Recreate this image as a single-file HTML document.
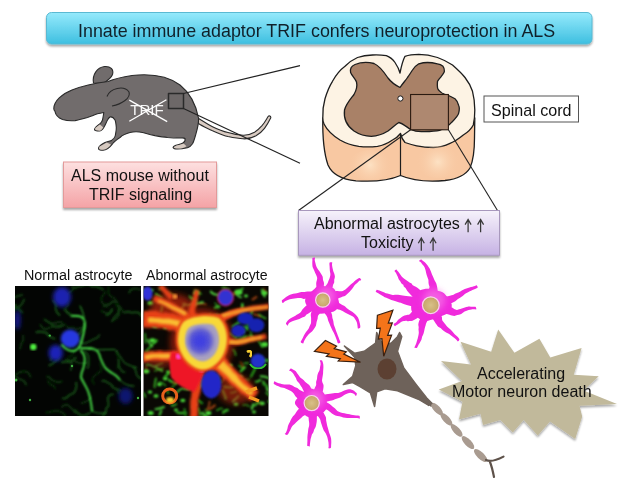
<!DOCTYPE html>
<html><head><meta charset="utf-8">
<style>
html,body{margin:0;padding:0;background:#fff;width:640px;height:480px;overflow:hidden}
body{position:relative;font-family:"Liberation Sans",sans-serif;color:#111}
svg{position:absolute;left:0;top:0}
.t{position:absolute;white-space:nowrap;line-height:1;will-change:transform}
</style></head><body>
<svg width="640" height="480" viewBox="0 0 640 480">
<defs>
 <linearGradient id="gTitle" x1="0" y1="0" x2="0" y2="1">
  <stop offset="0" stop-color="#95eafc"/><stop offset="1" stop-color="#3ebfe0"/>
 </linearGradient>
 <linearGradient id="gPink" x1="0" y1="0" x2="0" y2="1">
  <stop offset="0" stop-color="#fde0e0"/><stop offset="1" stop-color="#f4a3a6"/>
 </linearGradient>
 <linearGradient id="gLav" x1="0" y1="0" x2="0" y2="1">
  <stop offset="0" stop-color="#f6f2fb"/><stop offset="1" stop-color="#c6b2e4"/>
 </linearGradient>
 <filter id="sh" x="-10%" y="-10%" width="120%" height="140%">
  <feGaussianBlur in="SourceAlpha" stdDeviation="1.2"/><feOffset dy="1.5"/>
  <feComponentTransfer><feFuncA type="linear" slope="0.35"/></feComponentTransfer>
  <feMerge><feMergeNode/><feMergeNode in="SourceGraphic"/></feMerge>
 </filter>
 <radialGradient id="gNuc" cx="0.5" cy="0.5" r="0.55">
  <stop offset="0" stop-color="#d8c088"/><stop offset="0.8" stop-color="#c8a86c"/><stop offset="1" stop-color="#e8c8c0"/>
 </radialGradient>
 <filter id="b1"><feGaussianBlur stdDeviation="1"/></filter>
 <filter id="b2"><feGaussianBlur stdDeviation="2"/></filter>
 <filter id="b3"><feGaussianBlur stdDeviation="3"/></filter>
 <filter id="b05"><feGaussianBlur stdDeviation="0.6"/></filter>
 <filter id="b15"><feGaussianBlur stdDeviation="1.5"/></filter>
</defs>

<!-- Title bar -->
<rect x="46.5" y="12.5" width="545.5" height="31.5" rx="5" fill="url(#gTitle)" stroke="#5ab9d2" stroke-width="1" filter="url(#sh)"/>


<!-- Mouse -->
<g stroke="#2a2a2a" stroke-width="1.1" stroke-linejoin="round">
 <!-- tail -->
 <path d="M197 117.5 C203 121 207 124 212 126.5 C217 129 223 131.5 228 132.5 C233 134 238 135 243 135.3 C247 135.5 251 134.3 254.5 132.3 C258 130 260 128 262 125.7 C265 122 266.5 119 268.3 116.3 C269 115.5 271 116 270.8 117.8 C269 121.5 267 125 264.5 128.3 C262 131.5 259 134 256 135.8 C252 138 247 139 243 138.8 C238 138.5 233 137.5 228 136.5 C222 135 217 132.5 212 130.5 C207 128 202 126 198.5 123.5 Z" fill="#d9cbc2"/>
 <!-- ear -->
 <path d="M93.5 83 C92 75 97 67.5 104.5 66.5 C110.5 66 114 69.5 112.5 74.5 C111 78.5 107 81 103 83.5 Z" fill="#716c6c"/>
 <!-- body+head -->
 <path d="M53.8 108.5 C54 101 62 94 72 90 C82 86 96 83 108 81.5 C114 79 122 77 132 75.5 C150 73.5 168 76 180 85 C190 93 196 105 198.5 118 C199 124 197 130 195.6 135 C194.5 139 193.5 142 192.5 143.8 C191 146 189.5 147.5 187.5 147.8 C184 148.5 180 149 177.5 149 C175.5 149 173.5 148.5 173.1 147.5 C173.5 146 176 145.2 178 144.8 C180 144.4 182 144 183 143 C185 141.5 185.5 140 185 138.5 C184 137.6 182 137.8 180 138 C176 138 171 137.8 167.5 137.5 C163 137 159 136.3 155 135.6 C150 134.6 146 133.4 142.5 132.5 C138 131.5 134 131.5 130 132.5 C126 133.5 122 135.5 120 137.5 C117 139.5 114 141.5 112.5 143.8 C110 147 107 150 103 150.2 C100 150.2 98 149.5 98.5 148.2 C99 146 102 144 105 142.5 C108 141.5 110 141 111.3 140.6 C114 138.5 115 137 115.2 136 C116 132 116.5 130 116.3 127.5 C116 124 115.5 121 115 120 C113.5 117.5 111.5 116.5 110 117 C108.5 118 108 119 107.5 120 C106 123 105 125.5 103.8 127.5 C102.5 129.5 101 131 99.5 131 C97 131 94.5 130.5 94.5 129.5 C95 127.5 97.5 125.5 100 123.8 C101.5 122.5 102 121.5 102.5 120 C103 117.5 103.5 115 103.8 112.5 C101 113 99.5 113.5 97.5 113.8 C94 115 90.5 116.5 87.5 117.5 C83 118.8 79 120 75 120.6 C70 121.2 66 120.5 62.5 119.4 C58 117.5 55.5 114.5 55 111.3 C54 110.5 53.8 109.5 53.8 108.5 Z" fill="#716c6c"/>
 <!-- shoulder line -->
 <path d="M107 96.5 C110 88 124 85 129 92 C131 98 122 104 112 106" fill="none"/>
 <!-- square -->
 <rect x="168.5" y="93.5" width="15" height="15" fill="#6d6868" stroke-width="1.5"/>
</g>
<!-- paws -->
<path d="M95.2 128 L99.8 124.6 L103.2 127.2 C102 129.5 101 130.8 99.5 130.7 C97.5 130.7 95.5 130.3 95.2 129.6 Z" fill="#d6c9c0"/>
<path d="M99.2 146.8 L106.8 142.4 L111 144.6 C109 147.5 106.5 149.5 103 149.7 C100.5 149.7 99 149.2 99.2 148.4 Z" fill="#d6c9c0"/>
<path d="M173.8 147.3 C175 146 177 145.3 179 144.9 L183.5 143.4 L186.5 146.3 C184.5 147.8 181.5 148.6 177.5 148.6 C175.5 148.6 174 148.3 173.8 147.3 Z" fill="#d6c9c0"/>
<!-- lines from mouse to cord (on top) -->
<line x1="183.5" y1="93.5" x2="300" y2="65.7" stroke="#222" stroke-width="1.2"/>
<line x1="183.5" y1="108.5" x2="300" y2="163.3" stroke="#222" stroke-width="1.2"/>
<!-- TRIF cross -->
<g stroke="#fff" stroke-width="1.3">
 <line x1="129.3" y1="100.1" x2="167.2" y2="121.6"/>
 <line x1="166.4" y1="99.7" x2="129.3" y2="121.2"/>
</g>
<text x="130.2" y="114.7" font-family="Liberation Sans" font-size="15.4" textLength="33.5" lengthAdjust="spacingAndGlyphs" fill="#fff" opacity="0.95">TRIF</text>

<!-- Spinal cord -->
<radialGradient id="gPeachA" cx="370" cy="165" r="22" gradientUnits="userSpaceOnUse">
 <stop offset="0" stop-color="#fde2c4"/><stop offset="1" stop-color="#f8c8a2" stop-opacity="0"/>
</radialGradient>
<radialGradient id="gPeachB" cx="438" cy="162" r="22" gradientUnits="userSpaceOnUse">
 <stop offset="0" stop-color="#fde2c4"/><stop offset="1" stop-color="#f8c8a2" stop-opacity="0"/>
</radialGradient>
<linearGradient id="gPeach" x1="0" y1="0" x2="0" y2="1"><stop offset="0" stop-color="#f8c8a2"/><stop offset="1" stop-color="#f8c8a2"/></linearGradient>
<g stroke="#1d1d1d" stroke-width="1.3" stroke-linejoin="round">
 <path d="M322.8 118 C322.5 135 323.5 152 328 165 C332 174 342 179.5 356 180.8 C371 181.8 389 180.5 400.5 175.5 C412 180.5 429 181.8 445 180.5 C458 179 466 174.5 470 168 C473.5 160 474.5 148 474.5 138 L474.8 118 Z" fill="url(#gPeach)"/>
 <path d="M322.8 118 C322.5 110 323.5 104 325 98.8 C327 92 329.5 86 332.5 81.3 C336 75 340 70 345 66.3 C349 62 353 59.5 357.5 57.5 C362 56 367 55.2 372.5 55 C377 54.8 382 55 386.3 55.6 C390 57 393 59.5 395 62.5 C397 65.5 399 69 400 73 C401 68 402.5 61 405 56.3 C409 55 414 54.5 418.8 54.4 C425 54.5 432 55.8 437.5 57.5 C443 59.5 448 62 452.5 65 C457 69 461.5 73 465 77.5 C468.5 82 471 86.5 472.5 91.3 C474 97 474.8 104 474.8 110 C474.8 116 474.5 120 473.3 125 C471 129.5 467.5 132.5 463.3 135 C459 138.5 455 141.5 450 143.3 C444.5 146 438.5 147.3 433.3 147.5 C427 147.5 421.5 146.8 416.7 145.8 C412 144.8 408 143.5 405 142.5 C402.5 139.5 401 136 400.5 133.5 C398.5 136 396 138.5 392.5 140 C387.5 143.5 383 145.5 377.5 146.3 C371 147 364.5 147 358.8 146.3 C352 145.3 346 143.5 340 140 C333.5 136 327 130 324 124 C323 122 322.8 120 322.8 118 Z" fill="#fdf3e4"/>
 <path d="M400 87.5 C395 85 391 82 388 78 C384 72 380 66 374 63.5 C368 62 360 62.5 355 64.5 C351 66 350 69 350.6 72.5 C352 76 355.5 79 356.5 82 C357.5 86 356.5 90 354 94.5 C351 98.5 346 104 344.5 110 C343.5 118 347 126 354 131 C360 135 366 136.3 371.3 136.3 C378 136 384 133.5 388 131 C392 128 395.5 124.5 398.8 122.5 C402 123 406 126.5 410.5 129.4 C414 131 418 131.8 422 131.7 C428 131.5 434 131.5 439.7 130.3 C445 128.5 449 125.5 451.8 122.2 C455 119 458 116 458.6 113.4 C459.5 110 459.5 107 458.6 105.3 C457.5 102 456.5 100 455 98.8 C452 97 450 96 447.5 95 C444 94 442 93.5 441.3 92.5 C438.5 90.5 437.5 89 437.5 87.5 C437 84.5 437.5 83 437.5 81.3 C439 79 440 78 441.3 76.3 C443 74 444.5 72.5 444.4 71.3 C444.5 69 444 67.5 443 66.3 C441 64.5 439.5 64 437.5 63.8 C434 63 431 62.5 427.5 62.5 C424 62.5 421.5 63 418.8 63.8 C416 65.5 414 67.5 412.5 70 C410.5 73 409 75.5 407.5 77.5 C405.5 80.5 403 83 400 87.5 Z" fill="#a98167"/>
 <circle cx="400.4" cy="98.5" r="2.6" fill="#fff" stroke-width="1"/>
</g>
<ellipse cx="370" cy="165" rx="22" ry="15" fill="url(#gPeachA)"/><ellipse cx="438" cy="162" rx="22" ry="16" fill="url(#gPeachB)"/>
<line x1="400.5" y1="134" x2="400.5" y2="175.8" stroke="#1d1d1d" stroke-width="1.2"/>
<!-- square on cord -->
<rect x="410.6" y="94.5" width="37.8" height="35.3" fill="#ae8870" stroke="#2a1a10" stroke-width="1.1"/>
<line x1="410.6" y1="129.8" x2="298.5" y2="210.5" stroke="#222" stroke-width="1.1"/>
<line x1="448.4" y1="129.8" x2="497.5" y2="210.5" stroke="#222" stroke-width="1.1"/>

<!-- Spinal cord label box -->
<rect x="484" y="96" width="94.5" height="26" fill="#fff" stroke="#555" stroke-width="1"/>

<!-- pink box -->
<rect x="63.5" y="162" width="153" height="45.5" fill="url(#gPink)" stroke="#e39a9a" stroke-width="1" filter="url(#sh)"/>

<!-- lavender box -->
<rect x="298.5" y="210.5" width="201" height="44.8" fill="url(#gLav)" stroke="#a898bd" stroke-width="1" filter="url(#sh)"/>

<!-- Microscopy left -->
<clipPath id="cL"><rect x="15" y="286" width="126" height="130"/></clipPath>
<rect x="15" y="286" width="126" height="130" fill="#030503"/>
<g clip-path="url(#cL)">
<g fill="none" stroke-linejoin="round" stroke-linecap="round" filter="url(#b1)"><path d="M94.2 383.9 L92.3 380.8 L93.2 376.8 L95.5 375.2 L97.9 373.2 L101.2 371.0 L101.5 368.0 L100.1 363.4" stroke="#0c320c" stroke-width="1.4"/><path d="M117.2 301.9 L112.3 301.5 L109.3 304.7 L106.4 304.7 L103.6 306.5" stroke="#124412" stroke-width="1.7"/><path d="M101.5 310.9 L105.7 313.0 L109.1 313.3 L111.6 312.0 L112.5 308.8" stroke="#0f3a0f" stroke-width="1.7"/><path d="M105.4 292.0 L103.5 294.6 L101.1 298.2 L102.1 303.0 L105.9 305.1 L107.0 307.4" stroke="#0c320c" stroke-width="1.6"/><path d="M88.4 284.2 L92.6 286.6 L95.7 286.1 L99.0 287.6 L103.3 289.5" stroke="#185018" stroke-width="1.8"/><path d="M26.3 384.8 L23.8 380.6 L20.6 379.6 L16.3 377.4 L11.6 376.4 L8.5 375.4" stroke="#185018" stroke-width="1.5"/><path d="M117.4 368.2 L119.3 366.0 L118.8 361.1 L118.7 357.6 L116.7 354.1 L117.0 350.5" stroke="#0c320c" stroke-width="1.4"/><path d="M141.2 369.8 L143.5 368.1 L148.3 367.0 L152.7 367.1 L155.5 364.8 L156.6 360.3" stroke="#185018" stroke-width="1.4"/><path d="M133.7 367.4 L135.8 370.5 L136.4 374.1 L138.3 377.1 L141.5 378.4 L143.0 383.0 L143.3 386.8 L144.3 389.3" stroke="#185018" stroke-width="1.7"/><path d="M84.3 351.4 L87.4 354.2 L88.6 357.4 L88.6 360.6 L88.6 365.0 L87.6 368.1" stroke="#185018" stroke-width="1.8"/><path d="M88.6 284.6 L85.5 284.6 L82.0 286.1 L78.6 286.4 L75.7 288.0 L72.3 287.0" stroke="#124412" stroke-width="1.9"/><path d="M102.9 415.8 L105.9 411.8 L106.2 408.4 L108.4 406.1 L108.3 401.9 L107.7 397.9 L109.9 394.8 L113.1 394.3" stroke="#185018" stroke-width="1.8"/><path d="M15.6 304.8 L13.0 308.0 L10.9 309.6 L8.5 311.5 L8.3 314.3" stroke="#185018" stroke-width="2.0"/><path d="M75.7 357.6 L72.8 360.3 L70.2 362.0 L67.7 361.7 L64.5 361.8 L61.8 362.3" stroke="#185018" stroke-width="2.0"/><path d="M84.6 324.0 L84.6 327.9 L81.3 331.0 L78.5 334.6 L75.7 336.6 L74.6 340.5 L72.7 345.0 L68.9 346.3" stroke="#185018" stroke-width="1.9"/><path d="M99.3 334.9 L97.6 337.8 L93.9 339.1 L89.5 341.3 L86.3 343.1 L82.8 343.4 L80.3 342.0 L77.0 339.2" stroke="#185018" stroke-width="1.6"/><path d="M66.8 326.4 L69.1 328.2 L73.2 327.4 L75.7 329.3 L78.4 328.8 L81.9 327.4 L84.9 326.6" stroke="#0c320c" stroke-width="1.8"/><path d="M44.4 319.4 L47.7 321.7 L51.2 323.8 L54.5 326.8 L58.9 327.0 L62.5 325.9" stroke="#185018" stroke-width="1.7"/><path d="M108.5 286.6 L108.6 289.1 L108.4 293.3 L110.9 296.7 L114.2 298.0 L116.6 301.2 L118.1 305.8 L118.3 310.5" stroke="#0c320c" stroke-width="1.6"/><path d="M102.1 380.9 L104.7 380.7 L108.3 383.0 L111.2 384.4 L114.0 388.2 L117.5 389.3 L121.0 390.8" stroke="#185018" stroke-width="1.7"/><path d="M68.2 356.6 L70.9 356.3 L73.9 352.5 L75.2 349.2 L73.8 346.0" stroke="#0c320c" stroke-width="1.3"/><path d="M123.2 312.8 L122.4 310.1 L119.5 306.3 L115.6 305.1" stroke="#0c320c" stroke-width="1.9"/><path d="M20.9 312.0 L18.6 309.7 L16.9 307.5 L13.9 304.8 L11.2 305.2 L7.5 304.5 L3.4 304.8" stroke="#0f3a0f" stroke-width="1.4"/><path d="M50.9 360.3 L52.0 356.6 L53.5 353.8 L55.3 351.2 L58.5 349.3 L59.7 346.5" stroke="#185018" stroke-width="1.6"/><path d="M63.3 300.8 L66.7 298.4 L67.3 295.6 L68.4 292.8 L71.6 290.9 L74.6 287.6" stroke="#0f3a0f" stroke-width="1.7"/><path d="M62.8 398.4 L65.8 398.3 L69.5 395.0 L73.7 393.2 L75.7 389.6 L76.4 386.6 L76.2 382.6" stroke="#185018" stroke-width="1.9"/><path d="M61.9 381.3 L58.5 382.5 L54.9 381.4 L51.4 379.7 L49.2 377.0 L46.6 376.6" stroke="#124412" stroke-width="1.4"/><path d="M76.7 410.4 L73.0 410.0 L70.2 407.1 L67.4 404.8 L64.5 404.9 L61.8 407.0" stroke="#0c320c" stroke-width="1.9"/><path d="M74.0 358.1 L75.7 361.9 L80.3 363.3 L84.6 363.4 L87.2 362.6" stroke="#0f3a0f" stroke-width="1.8"/><path d="M74.3 411.6 L78.2 413.1 L80.3 415.1 L82.7 415.7 L85.4 415.1 L89.9 413.0" stroke="#185018" stroke-width="1.8"/><path d="M36.4 332.2 L39.4 331.6 L44.2 332.2 L47.5 333.5 L48.3 335.9 L52.3 337.9 L54.8 338.6" stroke="#185018" stroke-width="2.0"/><path d="M106.6 315.2 L108.9 314.1 L110.5 312.0 L111.7 309.6" stroke="#185018" stroke-width="1.9"/><path d="M70.9 370.1 L71.6 366.4 L71.7 362.6 L69.6 360.1 L65.8 359.5" stroke="#124412" stroke-width="1.7"/><path d="M125.1 312.2 L128.6 311.6 L132.2 312.9 L134.6 312.1 L138.8 312.7 L142.1 316.4 L143.8 318.7 L146.5 322.2" stroke="#185018" stroke-width="1.9"/><path d="M53.3 300.7 L56.2 304.1 L55.6 308.2 L56.6 311.8 L59.4 315.0" stroke="#185018" stroke-width="1.9"/><path d="M128.9 292.8 L131.0 289.5 L135.0 288.4 L138.8 289.1 L143.4 289.4 L147.9 291.1 L151.0 294.1" stroke="#185018" stroke-width="1.4"/><path d="M118.3 359.4 L118.8 362.5 L118.2 365.7 L120.8 369.3 L122.0 371.5 L124.8 372.2" stroke="#185018" stroke-width="1.6"/><path d="M46.1 412.4 L49.5 412.3 L51.9 411.5 L56.4 410.7 L59.0 411.3 L61.8 412.2 L64.7 414.4 L65.2 418.8" stroke="#0f3a0f" stroke-width="1.5"/><path d="M70.8 314.0 L67.0 311.9 L65.9 308.3 L68.0 304.9 L67.3 300.4" stroke="#0c320c" stroke-width="1.8"/><path d="M39.4 283.1 L43.3 280.5 L45.4 278.3 L46.5 275.5 L48.0 272.5" stroke="#124412" stroke-width="1.6"/><path d="M118.8 393.7 L117.6 390.4 L113.8 387.9 L111.6 386.5" stroke="#124412" stroke-width="1.6"/><path d="M111.5 321.3 L114.6 319.4 L117.0 318.1 L119.2 314.5 L118.6 310.6 L118.8 306.0" stroke="#0f3a0f" stroke-width="1.5"/><path d="M15.6 325.4 L12.2 328.0 L8.9 331.0 L5.0 333.8 L2.6 335.1 L1.1 338.3 L-1.3 339.1" stroke="#124412" stroke-width="1.5"/><path d="M22.3 294.9 L17.6 296.1 L13.1 298.0 L11.7 302.7 L12.2 305.2 L16.1 308.1 L19.4 309.1 L22.7 312.6" stroke="#124412" stroke-width="1.6"/><path d="M24.1 299.5 L22.0 303.9 L19.7 306.4 L16.1 307.8 L13.5 311.1 L12.4 314.2 L8.5 316.9 L3.7 318.2" stroke="#124412" stroke-width="1.9"/><path d="M40.1 324.6 L43.0 328.4 L46.5 329.0 L50.3 327.4 L54.2 326.2 L58.1 326.1 L61.1 325.5 L65.0 324.6" stroke="#124412" stroke-width="1.5"/><path d="M49.1 365.3 L51.8 364.3 L54.7 361.8 L57.6 359.7 L59.3 357.5" stroke="#185018" stroke-width="1.8"/><path d="M20.1 348.9 L21.0 344.4 L23.2 340.1 L23.1 335.8" stroke="#0c320c" stroke-width="1.9"/><path d="M12.2 374.4 L16.2 374.7 L19.8 372.1 L24.2 371.2 L28.3 372.6 L30.5 376.9" stroke="#0f3a0f" stroke-width="1.6"/><path d="M119.5 309.6 L117.9 313.5 L115.9 315.3 L113.5 318.4 L112.4 320.9" stroke="#185018" stroke-width="1.4"/><path d="M12.4 334.8 L9.8 338.9 L7.8 340.4 L2.8 340.7" stroke="#124412" stroke-width="1.9"/><path d="M62.4 322.5 L59.2 322.1 L54.7 322.9 L52.1 323.2" stroke="#0c320c" stroke-width="2.0"/><path d="M47.8 380.9 L49.7 384.0 L53.9 385.9 L55.3 388.6" stroke="#0c320c" stroke-width="1.5"/><path d="M119.0 283.7 L120.6 281.7 L124.0 278.2 L126.7 277.8 L128.9 279.7 L129.7 282.1" stroke="#0f3a0f" stroke-width="2.0"/><path d="M91.0 397.1 L89.1 400.0 L85.9 401.7 L81.4 403.2" stroke="#0f3a0f" stroke-width="1.5"/></g>
<g filter="url(#b2)">
  <ellipse cx="62" cy="297" rx="9" ry="10" fill="#1a22b0"/>
  <ellipse cx="17.5" cy="320" rx="3" ry="10" fill="#141e90"/>
  <ellipse cx="55.7" cy="353" rx="7" ry="8" fill="#1a24b8"/>
  <ellipse cx="125.6" cy="396" rx="7" ry="8" fill="#0e1670"/>
 </g>
 <ellipse cx="70.2" cy="338.6" rx="9.5" ry="9" fill="#2838e0" filter="url(#b15)"/>
 <g fill="none" stroke="#48e448" stroke-width="2" filter="url(#b1)" stroke-linecap="round" stroke-linejoin="round">
  <path d="M62 345 C66 350 70 351.5 74 351 C78 350 81 346 82.3 338.6 C84 332 85 326 84.7 321.7 C84 318 82 316.5 78 316 C75 315.7 73 315.7 71.4 315.7"/>
  <path d="M81 348.3 C84 348.3 87 348 90.7 348.3 C94 349 97 350 98 352 C99.5 354 100 356 100.4 358 C102 362 104 366 105.2 367.6 C108 371 112 373 115 374.9 C117 376 118.5 378 119.7 379.7" stroke-width="1.9"/>
  <path d="M81 350.7 C83 353 84.5 356 84.7 358 C85 362 84 365 83.5 367.6 C82 371 81 374 81 377.3 C82 380 83.5 382 84.7 384.5 C86 387 87.5 389.5 88.3 391.8 C89.5 395 90.2 398 90.7 401.4 C91.3 404.5 91.8 408 92 411" stroke-width="1.9"/>
  <path d="M88.3 349.5 C96 350 106 349.5 114.9 349.5 C118 353 121 358 124.5 362.8 C128 365 132 366.5 136.6 367.6" stroke-width="1" stroke="#2a8a2a"/>
  <path d="M84.7 321.7 C84 316 83 311 80 306" stroke-width="1.1" stroke="#2a9a2a"/>
  <path d="M71.4 315.7 C68 314 66 312 64 309" stroke-width="1" stroke="#2a8a2a"/>
  <path d="M119.7 379.7 C124 384 128 386 134 386" stroke-width="1" stroke="#2a8a2a"/>
  <path d="M92 411 C96 413 100 414 106 413" stroke-width="1" stroke="#2a8a2a"/>
 </g>
 <circle cx="33.3" cy="347" r="3.2" fill="#50f040" filter="url(#b1)"/>
 <g fill="#40b040" filter="url(#b05)">
  <circle cx="49.8" cy="335.6" r="1.2"/>
  <circle cx="16" cy="380" r="1.5"/>
  <circle cx="30" cy="400" r="1.2"/>
  <circle cx="138" cy="398" r="1.2"/>
  <circle cx="72" cy="366" r="1.2"/>
 </g>
</g>
<!-- Microscopy right -->
<clipPath id="cR"><rect x="143.5" y="286" width="125" height="130"/></clipPath>
<rect x="143.5" y="286" width="125" height="130" fill="#0a0804"/>
<g clip-path="url(#cR)">
<g filter="url(#b1)" stroke-linecap="round"><path d="M200.0 358.8 q-2.1 4.4 -1.8 6.3" fill="none" stroke="#38b828" stroke-width="2.0"/><path d="M207.5 367.9 q3.0 1.2 5.6 2.7" fill="none" stroke="#38b828" stroke-width="1.6"/><path d="M255.2 368.5 q-1.6 3.4 -4.1 7.8" fill="none" stroke="#228a18" stroke-width="2.6"/><path d="M162.8 288.0 q-1.5 0.4 -3.9 1.5" fill="none" stroke="#228a18" stroke-width="1.5"/><path d="M241.0 328.4 q-1.4 3.0 -2.8 6.0" fill="none" stroke="#228a18" stroke-width="2.4"/><path d="M226.5 345.5 q-5.0 2.4 -6.6 1.4" fill="none" stroke="#2a901a" stroke-width="1.9"/><path d="M175.0 384.5 q-2.0 1.9 -3.2 2.9" fill="none" stroke="#228a18" stroke-width="1.7"/><path d="M249.7 336.2 q3.2 -0.4 3.2 2.4" fill="none" stroke="#30a820" stroke-width="2.4"/><path d="M202.2 413.4 q3.5 1.3 5.5 4.0" fill="none" stroke="#50d040" stroke-width="1.9"/><path d="M185.4 326.5 q2.6 2.4 7.3 2.8" fill="none" stroke="#30a820" stroke-width="2.6"/><path d="M155.7 293.8 q3.1 2.0 6.2 4.1" fill="none" stroke="#38b828" stroke-width="2.0"/><path d="M267.1 386.0 q-0.6 3.4 1.1 4.4" fill="none" stroke="#50d040" stroke-width="2.2"/><path d="M177.0 412.2 q3.2 1.5 9.0 0.6" fill="none" stroke="#38b828" stroke-width="2.1"/><path d="M268.5 364.3 q2.5 3.7 7.0 5.6" fill="none" stroke="#228a18" stroke-width="1.5"/><path d="M240.4 328.8 q2.3 0.8 3.5 2.7" fill="none" stroke="#2a901a" stroke-width="1.9"/><path d="M145.0 333.9 q0.5 4.1 0.5 8.8" fill="none" stroke="#228a18" stroke-width="1.9"/><path d="M252.2 309.8 q0.0 1.5 -1.7 4.8" fill="none" stroke="#40c030" stroke-width="1.8"/><path d="M163.0 367.8 q-3.7 1.2 -8.2 3.2" fill="none" stroke="#228a18" stroke-width="1.6"/><path d="M196.1 299.5 q-2.2 2.4 -3.6 3.9" fill="none" stroke="#30a820" stroke-width="2.0"/><path d="M196.0 403.6 q-3.3 3.6 -3.1 3.8" fill="none" stroke="#50d040" stroke-width="1.8"/><path d="M171.8 358.7 q3.4 -0.3 3.4 2.7" fill="none" stroke="#38b828" stroke-width="2.1"/><path d="M237.4 295.0 q1.3 1.7 3.7 2.3" fill="none" stroke="#50d040" stroke-width="1.9"/><path d="M215.1 303.1 q2.5 1.8 3.2 5.4" fill="none" stroke="#2a901a" stroke-width="1.6"/><path d="M208.8 409.1 q-1.2 -0.2 -3.9 1.1" fill="none" stroke="#228a18" stroke-width="1.4"/><path d="M264.3 288.8 q-0.2 3.3 2.4 3.6" fill="none" stroke="#8a3a10" stroke-width="1.5"/><path d="M152.1 344.9 q-2.1 2.3 -5.8 6.3" fill="none" stroke="#2a901a" stroke-width="2.3"/><path d="M243.0 405.0 q4.5 -0.7 6.2 1.5" fill="none" stroke="#2a901a" stroke-width="1.5"/><path d="M262.0 289.9 q1.6 3.0 2.6 6.6" fill="none" stroke="#50d040" stroke-width="2.1"/><path d="M219.7 296.4 q0.0 3.2 1.4 5.1" fill="none" stroke="#8a3a10" stroke-width="1.5"/><path d="M260.7 376.2 q5.0 0.1 7.9 2.1" fill="none" stroke="#50d040" stroke-width="1.9"/><path d="M146.8 364.2 q5.2 0.4 8.2 3.0" fill="none" stroke="#50d040" stroke-width="1.4"/><path d="M226.2 349.2 q-0.7 2.1 -1.6 4.4" fill="none" stroke="#30a820" stroke-width="1.8"/><path d="M238.0 330.5 q-0.2 3.5 1.5 5.0" fill="none" stroke="#50d040" stroke-width="2.0"/><path d="M222.9 390.5 q1.8 3.6 3.0 7.9" fill="none" stroke="#38b828" stroke-width="2.5"/><path d="M182.9 303.7 q2.5 2.3 8.4 1.1" fill="none" stroke="#50d040" stroke-width="1.8"/><path d="M266.5 392.8 q1.8 2.0 4.2 3.3" fill="none" stroke="#30a820" stroke-width="1.9"/><path d="M221.8 350.2 q-2.3 4.5 -3.1 7.6" fill="none" stroke="#2a901a" stroke-width="2.3"/><path d="M247.4 322.2 q-1.6 4.4 -1.7 7.4" fill="none" stroke="#228a18" stroke-width="1.4"/><path d="M242.7 288.5 q-2.8 2.6 -3.7 3.3" fill="none" stroke="#40c030" stroke-width="1.9"/><path d="M241.2 389.6 q0.3 1.7 -0.5 4.5" fill="none" stroke="#8a3a10" stroke-width="1.5"/><path d="M189.5 296.1 q0.7 3.7 5.4 3.4" fill="none" stroke="#40c030" stroke-width="1.6"/><path d="M202.5 378.8 q1.3 2.1 -1.0 7.8" fill="none" stroke="#40c030" stroke-width="1.7"/><path d="M206.1 415.6 q-5.5 2.8 -7.6 2.3" fill="none" stroke="#40c030" stroke-width="1.9"/><path d="M260.5 379.9 q-4.3 2.8 -4.7 1.7" fill="none" stroke="#40c030" stroke-width="1.9"/><path d="M212.3 370.8 q1.1 3.7 1.0 8.7" fill="none" stroke="#228a18" stroke-width="2.4"/><path d="M168.8 379.9 q3.0 2.7 8.0 3.3" fill="none" stroke="#38b828" stroke-width="2.4"/><path d="M192.2 297.4 q3.8 1.7 4.3 6.7" fill="none" stroke="#2a901a" stroke-width="2.0"/><path d="M250.8 331.3 q-0.2 3.7 1.4 5.5" fill="none" stroke="#30a820" stroke-width="1.4"/><path d="M258.9 314.4 q2.8 2.7 6.8 4.1" fill="none" stroke="#38b828" stroke-width="1.5"/><path d="M242.3 304.3 q0.5 3.5 -0.5 8.5" fill="none" stroke="#40c030" stroke-width="2.6"/><path d="M198.5 400.4 q1.8 1.3 3.4 2.8" fill="none" stroke="#228a18" stroke-width="2.5"/><path d="M179.6 380.7 q-4.1 1.9 -6.3 1.9" fill="none" stroke="#8a3a10" stroke-width="1.6"/><path d="M227.6 410.1 q-0.4 -0.7 -4.5 2.3" fill="none" stroke="#38b828" stroke-width="2.5"/><path d="M209.1 360.5 q1.8 0.5 4.6 0.1" fill="none" stroke="#40c030" stroke-width="1.9"/><path d="M210.8 291.7 q2.5 3.3 8.3 3.3" fill="none" stroke="#50d040" stroke-width="2.1"/><path d="M164.0 407.0 q-5.2 2.0 -8.5 2.1" fill="none" stroke="#50d040" stroke-width="1.9"/><path d="M202.6 302.5 q-4.1 1.0 -8.4 2.2" fill="none" stroke="#50d040" stroke-width="2.5"/><path d="M156.7 340.5 q-3.7 3.4 -3.6 3.0" fill="none" stroke="#30a820" stroke-width="2.5"/><path d="M167.5 315.5 q2.7 2.6 5.5 5.3" fill="none" stroke="#8a3a10" stroke-width="1.7"/><path d="M206.0 361.7 q2.3 1.4 4.3 3.1" fill="none" stroke="#38b828" stroke-width="2.0"/><path d="M198.0 334.8 q1.0 2.1 -0.8 7.0" fill="none" stroke="#50d040" stroke-width="2.4"/><path d="M210.3 314.4 q-4.2 2.6 -6.4 3.1" fill="none" stroke="#40c030" stroke-width="2.4"/><path d="M236.3 391.4 q-3.8 1.8 -5.4 1.3" fill="none" stroke="#40c030" stroke-width="1.8"/><path d="M268.8 401.4 q1.8 1.1 4.5 1.3" fill="none" stroke="#40c030" stroke-width="2.5"/><path d="M197.8 408.4 q1.4 1.5 1.4 4.4" fill="none" stroke="#228a18" stroke-width="2.3"/><path d="M145.2 312.1 q2.5 2.9 3.4 7.3" fill="none" stroke="#8a3a10" stroke-width="1.8"/><path d="M223.0 330.7 q-1.7 5.9 0.5 8.0" fill="none" stroke="#8a3a10" stroke-width="2.4"/><path d="M239.0 365.7 q1.0 2.2 4.6 1.7" fill="none" stroke="#228a18" stroke-width="2.0"/><path d="M162.9 322.8 q-2.3 0.5 -4.3 0.7" fill="none" stroke="#8a3a10" stroke-width="1.5"/><path d="M239.4 328.5 q1.8 2.3 4.6 3.5" fill="none" stroke="#50d040" stroke-width="1.9"/><path d="M222.9 291.3 q-2.5 2.7 -4.3 4.6" fill="none" stroke="#40c030" stroke-width="1.6"/><path d="M167.6 307.5 q4.1 -0.6 5.4 1.5" fill="none" stroke="#228a18" stroke-width="2.4"/><path d="M253.3 404.1 q-1.3 3.0 -1.3 4.8" fill="none" stroke="#50d040" stroke-width="2.1"/><path d="M239.1 322.3 q-3.7 2.6 -6.6 4.3" fill="none" stroke="#30a820" stroke-width="2.3"/><path d="M256.0 400.4 q1.4 2.8 5.2 3.3" fill="none" stroke="#8a3a10" stroke-width="1.8"/><path d="M166.3 389.7 q1.4 1.3 1.8 3.6" fill="none" stroke="#2a901a" stroke-width="2.0"/><path d="M221.6 316.2 q-0.5 3.7 1.5 4.9" fill="none" stroke="#8a3a10" stroke-width="1.8"/><path d="M152.7 352.9 q-0.8 0.6 -5.5 5.1" fill="none" stroke="#50d040" stroke-width="2.2"/><path d="M145.9 366.0 q1.0 2.1 -0.1 6.2" fill="none" stroke="#8a3a10" stroke-width="1.7"/><path d="M224.6 287.4 q-0.6 4.2 -1.3 8.4" fill="none" stroke="#2a901a" stroke-width="1.7"/><path d="M264.9 359.8 q4.3 0.6 7.8 1.9" fill="none" stroke="#30a820" stroke-width="2.2"/><path d="M238.7 291.9 q-3.8 1.8 -8.0 3.9" fill="none" stroke="#40c030" stroke-width="1.9"/><path d="M218.2 341.8 q-1.5 3.7 -2.0 6.3" fill="none" stroke="#50d040" stroke-width="1.9"/><path d="M179.0 371.2 q-4.5 4.5 -5.1 5.2" fill="none" stroke="#228a18" stroke-width="2.5"/><path d="M240.3 362.2 q2.9 2.1 2.6 7.3" fill="none" stroke="#8a3a10" stroke-width="1.6"/><path d="M237.3 292.5 q-2.4 0.9 -4.2 1.3" fill="none" stroke="#8a3a10" stroke-width="2.5"/><path d="M203.2 412.5 q-0.2 -0.4 -3.7 2.5" fill="none" stroke="#40c030" stroke-width="1.5"/><path d="M161.2 410.8 q-1.0 2.3 -1.7 4.2" fill="none" stroke="#40c030" stroke-width="2.1"/><path d="M168.7 292.8 q2.3 1.6 5.3 2.5" fill="none" stroke="#228a18" stroke-width="1.6"/><path d="M218.7 369.1 q1.6 1.9 -0.8 7.9" fill="none" stroke="#8a3a10" stroke-width="1.9"/><path d="M263.0 381.5 q1.9 2.7 3.7 5.4" fill="none" stroke="#40c030" stroke-width="2.0"/><path d="M249.7 321.7 q-0.4 2.7 -1.9 6.5" fill="none" stroke="#228a18" stroke-width="2.2"/><path d="M237.9 310.7 q3.7 1.4 5.9 4.2" fill="none" stroke="#40c030" stroke-width="2.0"/><path d="M222.2 287.2 q3.5 1.0 6.8 2.3" fill="none" stroke="#2a901a" stroke-width="1.9"/><path d="M152.1 297.2 q-2.6 0.2 -5.2 0.3" fill="none" stroke="#8a3a10" stroke-width="1.6"/><path d="M187.6 330.0 q2.5 2.5 8.0 1.9" fill="none" stroke="#50d040" stroke-width="2.3"/><path d="M245.0 367.1 q-2.6 2.7 -4.4 4.4" fill="none" stroke="#38b828" stroke-width="2.3"/><path d="M162.0 306.0 q0.6 1.8 -0.9 5.6" fill="none" stroke="#38b828" stroke-width="2.6"/><path d="M259.0 341.6 q1.8 2.5 3.3 5.4" fill="none" stroke="#2a901a" stroke-width="2.1"/><path d="M197.4 359.8 q-3.8 3.5 -4.2 3.6" fill="none" stroke="#38b828" stroke-width="2.2"/><path d="M169.9 372.1 q-3.1 2.9 -4.8 4.4" fill="none" stroke="#30a820" stroke-width="2.2"/><path d="M254.1 314.4 q3.6 0.2 5.4 2.1" fill="none" stroke="#8a3a10" stroke-width="2.3"/><path d="M214.7 405.4 q-3.3 2.6 -5.0 3.6" fill="none" stroke="#8a3a10" stroke-width="2.5"/><path d="M183.0 337.9 q0.6 2.9 2.2 4.8" fill="none" stroke="#8a3a10" stroke-width="2.5"/><path d="M188.8 337.4 q1.1 4.0 3.1 7.0" fill="none" stroke="#50d040" stroke-width="2.4"/><path d="M162.5 362.8 q-4.5 2.3 -7.3 2.9" fill="none" stroke="#40c030" stroke-width="1.6"/><path d="M145.8 353.0 q4.1 -1.2 5.5 0.4" fill="none" stroke="#228a18" stroke-width="1.6"/><path d="M196.3 361.7 q3.1 -0.4 4.3 1.1" fill="none" stroke="#2a901a" stroke-width="2.3"/><path d="M256.3 297.0 q-2.2 1.5 -3.8 2.5" fill="none" stroke="#8a3a10" stroke-width="2.2"/><path d="M232.7 349.6 q2.7 1.6 2.9 5.6" fill="none" stroke="#228a18" stroke-width="1.8"/><path d="M185.0 303.8 q-0.6 1.4 -4.6 6.0" fill="none" stroke="#50d040" stroke-width="2.0"/><path d="M194.7 393.4 q-0.9 3.5 1.5 3.7" fill="none" stroke="#8a3a10" stroke-width="1.8"/><path d="M201.5 356.4 q-3.4 2.5 -6.1 4.4" fill="none" stroke="#30a820" stroke-width="2.0"/><path d="M196.0 305.0 q-2.7 3.7 -3.9 6.0" fill="none" stroke="#8a3a10" stroke-width="1.6"/><path d="M192.1 354.8 q-0.3 3.3 2.4 3.5" fill="none" stroke="#2a901a" stroke-width="2.6"/><path d="M224.6 386.9 q3.8 0.3 7.8 0.4" fill="none" stroke="#40c030" stroke-width="2.5"/><path d="M243.9 326.6 q2.7 0.8 3.8 3.4" fill="none" stroke="#40c030" stroke-width="1.6"/><path d="M217.9 315.1 q-1.1 -0.9 -5.8 1.7" fill="none" stroke="#40c030" stroke-width="2.5"/><path d="M222.0 408.5 q-0.8 -0.7 -5.0 1.8" fill="none" stroke="#228a18" stroke-width="2.0"/><path d="M186.1 357.2 q4.3 -1.4 5.0 0.8" fill="none" stroke="#30a820" stroke-width="2.0"/><path d="M244.0 336.0 q-4.9 4.2 -6.2 4.9" fill="none" stroke="#228a18" stroke-width="2.4"/><path d="M259.5 402.0 q-1.5 0.9 -4.7 3.5" fill="none" stroke="#38b828" stroke-width="2.0"/><path d="M219.4 306.4 q-1.0 -0.6 -4.5 1.4" fill="none" stroke="#40c030" stroke-width="2.3"/><path d="M159.5 382.4 q4.1 0.4 5.9 3.0" fill="none" stroke="#228a18" stroke-width="1.7"/><path d="M143.2 392.8 q1.5 1.6 2.1 4.1" fill="none" stroke="#38b828" stroke-width="1.6"/><path d="M209.5 401.7 q0.3 2.8 -2.4 8.5" fill="none" stroke="#8a3a10" stroke-width="2.0"/><path d="M181.3 388.6 q-3.1 2.6 -5.7 4.7" fill="none" stroke="#50d040" stroke-width="1.6"/><path d="M147.7 339.7 q1.5 4.1 4.6 6.8" fill="none" stroke="#50d040" stroke-width="1.6"/><path d="M152.6 325.7 q0.7 1.9 4.2 1.0" fill="none" stroke="#50d040" stroke-width="2.2"/><path d="M227.1 373.9 q-3.8 5.6 -3.8 7.2" fill="none" stroke="#8a3a10" stroke-width="2.6"/><path d="M190.5 378.3 q-0.3 0.1 -3.4 3.0" fill="none" stroke="#40c030" stroke-width="1.8"/><path d="M249.4 379.5 q-2.5 -0.3 -7.0 1.4" fill="none" stroke="#228a18" stroke-width="1.6"/><path d="M263.2 384.1 q3.1 0.6 4.3 3.1" fill="none" stroke="#228a18" stroke-width="2.2"/><path d="M184.5 408.9 q0.1 4.0 1.2 7.1" fill="none" stroke="#228a18" stroke-width="2.0"/><path d="M155.8 366.8 q2.8 2.4 6.4 4.0" fill="none" stroke="#40c030" stroke-width="2.2"/><path d="M248.5 363.1 q-2.3 0.4 -4.2 0.2" fill="none" stroke="#30a820" stroke-width="1.5"/><path d="M240.2 330.4 q-0.4 1.9 -2.9 5.9" fill="none" stroke="#38b828" stroke-width="1.9"/><path d="M246.5 336.2 q-1.9 2.2 -4.6 5.4" fill="none" stroke="#2a901a" stroke-width="2.5"/><path d="M183.0 388.5 q2.8 0.9 7.0 0.4" fill="none" stroke="#40c030" stroke-width="2.2"/><path d="M186.1 370.6 q0.4 3.0 2.5 4.3" fill="none" stroke="#30a820" stroke-width="2.1"/><path d="M155.9 378.7 q-1.2 4.8 -1.3 8.4" fill="none" stroke="#2a901a" stroke-width="2.3"/><path d="M206.1 304.4 q-3.5 -0.8 -8.7 0.1" fill="none" stroke="#8a3a10" stroke-width="1.6"/><path d="M260.9 359.8 q1.4 1.7 4.8 1.3" fill="none" stroke="#30a820" stroke-width="2.2"/><path d="M215.6 376.6 q4.3 1.6 5.6 6.2" fill="none" stroke="#2a901a" stroke-width="1.5"/><path d="M200.0 380.9 q-0.4 3.1 -1.3 6.6" fill="none" stroke="#40c030" stroke-width="2.5"/><path d="M176.3 404.2 q-4.3 2.5 -4.6 1.0" fill="none" stroke="#38b828" stroke-width="1.8"/><path d="M229.3 333.3 q3.6 2.1 6.8 4.5" fill="none" stroke="#38b828" stroke-width="2.1"/><path d="M152.6 290.2 q-5.8 1.5 -8.6 0.0" fill="none" stroke="#40c030" stroke-width="2.3"/><path d="M238.3 396.2 q-4.0 3.8 -5.3 4.9" fill="none" stroke="#50d040" stroke-width="2.1"/><path d="M194.9 290.3 q3.0 1.7 5.9 3.6" fill="none" stroke="#228a18" stroke-width="1.9"/></g>
<g fill="#48d838" filter="url(#b1)"><ellipse cx="150.5" cy="303.0" rx="3.0" ry="2.1"/><ellipse cx="196.3" cy="293.0" rx="3.0" ry="2.1"/><ellipse cx="152.4" cy="340.4" rx="3.2" ry="2.2"/><ellipse cx="238.4" cy="292.3" rx="4.0" ry="2.8"/><ellipse cx="264.5" cy="293.0" rx="3.0" ry="2.1"/><ellipse cx="146.4" cy="371.3" rx="3.0" ry="2.1"/><ellipse cx="165.3" cy="378.6" rx="2.5" ry="1.8"/><ellipse cx="159.5" cy="384.4" rx="2.5" ry="1.8"/><ellipse cx="150.7" cy="413.0" rx="3.0" ry="2.1"/><ellipse cx="182.8" cy="400.5" rx="2.5" ry="1.8"/><ellipse cx="230.0" cy="365.5" rx="2.5" ry="1.8"/><ellipse cx="240.4" cy="377.0" rx="2.5" ry="1.8"/><ellipse cx="208.4" cy="413.0" rx="3.0" ry="2.1"/><ellipse cx="262.3" cy="403.4" rx="2.5" ry="1.8"/><ellipse cx="264.5" cy="344.5" rx="3.5" ry="2.4"/><ellipse cx="246.0" cy="296.0" rx="2.0" ry="1.4"/><ellipse cx="156.0" cy="396.0" rx="2.5" ry="1.8"/><ellipse cx="176.0" cy="410.0" rx="2.0" ry="1.4"/><ellipse cx="236.0" cy="404.0" rx="2.5" ry="1.8"/><ellipse cx="254.0" cy="412.0" rx="2.0" ry="1.4"/><ellipse cx="168.0" cy="372.0" rx="2.0" ry="1.4"/><ellipse cx="150.0" cy="392.0" rx="2.2" ry="1.5"/><ellipse cx="165.5" cy="327.3" rx="2.5" ry="1.8"/></g>
<g filter="url(#b3)" opacity="0.7"><ellipse cx="172" cy="308" rx="22" ry="14" fill="#c02810"/><ellipse cx="202" cy="342" rx="32" ry="34" fill="#b02010"/><ellipse cx="236" cy="390" rx="18" ry="14" fill="#a02810"/><ellipse cx="160" cy="360" rx="14" ry="8" fill="#902010"/></g>
<path d="M188.4 317.8 C188.9 314.9 187.4 317.1 186.6 316.9 C185.7 316.6 184.5 316.7 183.4 316.4 C182.3 316.2 181.1 315.6 179.9 315.3 C178.7 315.0 177.3 314.9 176.1 314.5 C174.9 314.1 173.9 313.2 172.7 313.0 C171.6 312.9 170.4 313.6 169.3 313.5 C168.2 313.4 167.2 312.5 166.2 312.4 C165.1 312.3 164.0 312.9 162.9 312.9 C161.9 312.9 160.9 312.5 159.9 312.2 C158.8 311.8 157.7 311.1 156.5 310.8 C155.3 310.5 153.9 310.6 152.7 310.5 C151.4 310.5 150.1 310.3 148.9 310.5 C147.8 310.6 146.6 311.4 145.7 311.6 C144.7 311.8 144.0 309.3 143.5 311.8 C142.9 314.2 142.3 323.7 142.5 326.3 C142.7 328.9 143.9 327.1 144.8 327.3 C145.7 327.5 146.8 327.6 148.0 327.7 C149.1 327.7 150.4 327.5 151.6 327.4 C152.8 327.4 154.1 327.1 155.2 327.2 C156.3 327.4 157.2 328.2 158.2 328.3 C159.2 328.5 160.2 328.0 161.2 328.1 C162.2 328.1 163.1 328.4 164.0 328.6 C165.0 328.8 165.9 328.9 166.7 329.2 C167.6 329.6 168.3 330.6 169.2 330.8 C170.2 330.9 171.2 329.9 172.3 329.9 C173.3 329.9 174.4 330.3 175.5 330.8 C176.5 331.3 177.4 332.5 178.4 333.0 C179.3 333.5 180.4 333.6 181.3 333.9 C182.1 334.1 182.3 337.4 183.5 334.7 C184.7 332.0 187.9 320.8 188.4 317.8 Z" fill="#e84018" filter="url(#b15)"/>
<path d="M191.9 314.9 C192.3 313.5 191.2 314.0 190.6 313.6 C190.1 313.2 189.2 313.0 188.4 312.7 C187.7 312.4 186.7 312.1 185.9 311.6 C185.1 311.2 184.3 310.4 183.6 309.9 C182.8 309.3 182.2 308.7 181.3 308.3 C180.5 307.8 179.5 307.7 178.7 307.1 C177.9 306.6 177.2 305.6 176.4 305.0 C175.5 304.4 174.4 304.0 173.5 303.4 C172.5 302.9 171.6 302.2 170.5 301.7 C169.5 301.2 168.3 300.9 167.2 300.4 C166.0 300.0 164.8 299.5 163.6 298.9 C162.5 298.4 161.3 297.7 160.2 297.3 C159.2 296.8 158.0 296.4 157.2 296.1 C156.4 295.8 155.9 294.5 155.2 295.3 C154.4 296.0 152.9 299.6 152.9 300.7 C152.8 301.8 154.0 301.6 154.9 302.0 C155.7 302.4 156.8 302.8 157.9 303.2 C159.0 303.6 160.3 303.8 161.4 304.3 C162.5 304.7 163.6 305.4 164.6 305.9 C165.6 306.4 166.5 306.8 167.4 307.2 C168.3 307.7 169.1 308.2 170.0 308.7 C170.8 309.3 171.6 309.9 172.5 310.5 C173.3 311.1 174.2 311.6 175.0 312.2 C175.9 312.8 176.7 313.5 177.5 314.1 C178.3 314.7 179.1 315.3 179.9 315.9 C180.7 316.4 181.5 317.0 182.3 317.6 C183.1 318.1 184.0 318.5 184.7 319.0 C185.4 319.5 186.1 320.0 186.6 320.4 C187.1 320.9 186.9 322.6 187.8 321.7 C188.7 320.7 191.4 316.2 191.9 314.9 Z" fill="#e84018" filter="url(#b15)"/>
<path d="M199.7 320.5 C200.7 319.7 199.2 319.4 198.8 318.8 C198.4 318.2 197.9 317.6 197.5 316.9 C197.1 316.2 196.8 315.4 196.4 314.7 C196.1 314.0 195.7 313.3 195.5 312.7 C195.3 312.1 195.2 311.8 195.1 311.3 C195.0 310.8 195.2 310.3 195.2 309.7 C195.2 309.2 195.0 308.5 195.2 307.8 C195.3 307.2 195.8 306.6 196.1 305.9 C196.3 305.1 196.5 304.3 196.7 303.5 C196.9 302.7 197.0 301.9 197.2 301.0 C197.4 300.1 197.7 299.1 197.9 298.1 C198.2 297.1 198.4 296.0 198.6 295.1 C198.8 294.2 199.0 293.2 199.1 292.5 C199.2 291.7 199.9 291.0 199.1 290.5 C198.3 290.0 195.3 289.3 194.5 289.4 C193.7 289.5 194.4 290.5 194.3 291.2 C194.1 292.0 193.7 292.9 193.5 293.8 C193.3 294.7 193.2 295.8 193.0 296.8 C192.7 297.8 192.4 298.8 192.1 299.7 C191.8 300.6 191.5 301.4 191.2 302.1 C190.9 302.9 190.5 303.4 190.3 304.1 C190.0 304.8 190.0 305.6 189.8 306.4 C189.6 307.1 189.2 307.8 189.0 308.7 C188.8 309.5 188.4 310.4 188.4 311.3 C188.4 312.3 188.6 313.4 188.9 314.4 C189.2 315.3 189.9 316.2 190.2 317.2 C190.6 318.1 190.7 319.2 191.0 320.0 C191.2 320.8 191.6 321.7 191.9 322.2 C192.2 322.8 191.3 323.7 192.6 323.4 C193.9 323.1 198.7 321.2 199.7 320.5 Z" fill="#e84018" filter="url(#b15)"/>
<path d="M216.0 322.9 C216.8 323.8 217.6 322.5 218.6 322.1 C219.6 321.7 220.7 320.9 222.0 320.4 C223.2 319.9 224.7 319.4 226.1 318.9 C227.5 318.5 229.0 318.3 230.4 317.8 C231.7 317.4 232.8 316.6 234.0 316.1 C235.3 315.6 236.5 315.3 237.8 314.9 C239.0 314.4 240.2 313.9 241.5 313.5 C242.8 313.1 244.0 312.8 245.3 312.5 C246.6 312.2 247.9 312.0 249.2 311.8 C250.6 311.5 251.8 311.2 253.3 310.9 C254.7 310.7 256.4 310.6 257.9 310.4 C259.5 310.3 261.1 310.1 262.5 309.9 C264.0 309.7 265.4 309.5 266.6 309.3 C267.7 309.1 269.1 309.5 269.4 308.6 C269.7 307.6 269.2 304.4 268.6 303.6 C268.0 302.9 267.0 304.1 265.9 304.3 C264.7 304.5 263.3 304.5 261.8 304.7 C260.4 304.8 258.7 305.1 257.1 305.3 C255.6 305.5 253.8 305.5 252.3 305.8 C250.8 306.0 249.5 306.5 248.1 306.8 C246.7 307.1 245.4 307.4 244.1 307.7 C242.8 308.0 241.5 308.4 240.1 308.7 C238.8 309.0 237.4 309.1 236.2 309.5 C234.9 310.0 233.8 310.7 232.5 311.1 C231.2 311.6 229.8 311.6 228.4 312.0 C227.0 312.4 225.6 313.2 224.2 313.7 C222.8 314.2 221.3 314.5 220.0 315.0 C218.7 315.4 217.5 316.1 216.5 316.4 C215.5 316.7 214.0 315.8 213.9 316.9 C213.8 318.0 215.3 322.1 216.0 322.9 Z" fill="#e84018" filter="url(#b15)"/>
<path d="M223.5 343.3 C223.7 344.4 224.7 343.1 225.5 343.2 C226.3 343.4 227.3 343.9 228.4 344.1 C229.5 344.3 230.8 344.1 232.0 344.3 C233.2 344.4 234.5 345.0 235.7 345.1 C236.9 345.2 238.1 345.0 239.3 344.9 C240.4 344.7 241.5 344.5 242.6 344.2 C243.6 344.0 244.7 343.7 245.7 343.4 C246.7 343.0 247.6 342.6 248.6 342.3 C249.6 342.1 250.6 341.9 251.6 341.7 C252.6 341.5 253.6 341.3 254.7 341.0 C255.7 340.8 257.0 340.5 258.1 340.3 C259.3 340.1 260.5 340.0 261.6 339.8 C262.6 339.6 263.7 339.4 264.5 339.2 C265.4 339.0 266.4 339.7 266.6 338.8 C266.8 337.9 266.1 334.6 265.5 333.9 C265.0 333.1 264.3 333.9 263.4 334.1 C262.6 334.3 261.6 334.8 260.5 335.0 C259.5 335.3 258.3 335.4 257.1 335.6 C255.9 335.7 254.7 335.8 253.6 336.0 C252.5 336.1 251.4 336.4 250.4 336.6 C249.3 336.8 248.3 336.9 247.2 337.2 C246.2 337.5 245.3 337.9 244.3 338.1 C243.3 338.3 242.3 338.4 241.4 338.5 C240.5 338.7 239.6 339.1 238.7 339.2 C237.9 339.4 237.0 339.4 236.0 339.4 C235.0 339.3 233.9 339.2 232.8 338.9 C231.7 338.7 230.6 338.1 229.6 337.9 C228.6 337.7 227.5 337.7 226.7 337.5 C225.8 337.3 225.0 335.8 224.5 336.8 C224.0 337.7 223.3 342.2 223.5 343.3 Z" fill="#e84018" filter="url(#b15)"/>
<path d="M207.6 364.4 C205.6 367.1 208.4 366.2 209.2 367.0 C210.1 367.9 211.4 368.7 212.7 369.5 C214.1 370.4 215.9 371.0 217.1 372.0 C218.4 373.1 219.1 374.8 220.1 375.9 C221.1 376.9 222.3 377.7 223.3 378.4 C224.4 379.1 225.7 379.5 226.7 380.2 C227.6 380.9 228.4 381.8 229.2 382.7 C230.0 383.6 230.6 384.8 231.6 385.6 C232.6 386.4 234.0 386.6 235.2 387.4 C236.3 388.3 237.1 389.5 238.2 390.5 C239.3 391.5 240.6 392.7 241.9 393.7 C243.2 394.6 244.9 395.2 246.0 396.1 C247.2 397.0 247.9 398.6 248.8 399.3 C249.7 400.0 250.1 401.5 251.7 400.2 C253.3 398.9 257.7 393.3 258.5 391.6 C259.2 389.9 256.9 390.7 256.1 389.9 C255.2 389.1 254.3 387.9 253.2 386.9 C252.1 386.0 250.5 385.2 249.4 384.2 C248.3 383.1 247.4 381.7 246.5 380.6 C245.5 379.6 244.7 378.7 243.9 377.9 C243.0 377.0 242.4 376.2 241.5 375.4 C240.7 374.7 239.7 374.1 238.9 373.3 C238.1 372.5 237.4 371.6 236.6 370.7 C235.8 369.8 235.0 368.8 234.0 367.9 C233.1 366.9 232.1 366.0 231.1 364.9 C230.1 363.7 229.2 362.3 228.1 361.0 C227.1 359.7 226.0 358.4 225.0 357.3 C224.0 356.1 222.9 355.1 222.2 354.0 C221.5 353.0 223.4 349.3 221.0 351.0 C218.6 352.7 209.5 361.7 207.6 364.4 Z" fill="#e84018" filter="url(#b15)"/>
<path d="M195.4 371.1 C194.0 371.3 195.1 372.6 195.0 373.6 C195.0 374.6 195.4 375.9 195.2 377.1 C195.0 378.4 194.2 379.7 193.8 381.0 C193.4 382.2 193.1 383.6 192.9 384.8 C192.7 386.0 192.9 387.1 192.7 388.1 C192.5 389.2 192.0 390.0 191.8 391.0 C191.6 392.0 191.6 393.0 191.4 394.0 C191.3 395.1 191.2 396.1 191.0 397.2 C190.8 398.2 190.4 399.3 190.2 400.5 C190.1 401.6 190.1 402.9 190.1 404.2 C190.1 405.5 190.2 406.9 190.2 408.2 C190.2 409.6 190.3 411.0 190.3 412.3 C190.3 413.5 190.3 414.7 190.2 415.7 C190.1 416.7 188.3 417.6 189.6 418.0 C190.8 418.4 196.4 418.4 197.7 418.0 C199.1 417.6 197.6 416.5 197.6 415.5 C197.7 414.5 198.1 413.3 198.1 412.0 C198.2 410.8 197.9 409.5 198.0 408.2 C198.0 406.9 198.4 405.6 198.4 404.5 C198.4 403.4 197.9 402.4 198.0 401.4 C198.0 400.5 198.3 399.6 198.5 398.7 C198.7 397.8 198.9 396.9 199.2 396.0 C199.5 395.0 199.9 394.1 200.1 393.1 C200.4 392.1 200.6 391.1 200.9 390.0 C201.1 388.8 201.2 387.7 201.4 386.4 C201.6 385.2 201.7 383.8 202.1 382.5 C202.4 381.2 203.0 379.9 203.4 378.7 C203.7 377.4 204.0 376.2 204.0 375.2 C204.1 374.2 205.2 373.4 203.8 372.7 C202.4 372.0 196.9 371.0 195.4 371.1 Z" fill="#e84018" filter="url(#b15)"/>
<path d="M182.0 351.2 C181.7 349.6 181.0 351.1 180.3 351.1 C179.6 351.1 178.7 351.5 177.8 351.4 C176.9 351.4 175.9 350.8 174.9 350.8 C173.9 350.8 172.9 351.5 171.9 351.5 C171.0 351.6 170.0 351.1 169.1 351.1 C168.1 351.1 167.2 351.4 166.2 351.4 C165.2 351.5 164.1 351.5 163.1 351.4 C162.1 351.2 161.0 350.6 160.0 350.5 C158.9 350.5 157.9 351.1 156.8 351.2 C155.8 351.4 154.8 351.4 153.7 351.4 C152.6 351.4 151.4 351.1 150.3 351.2 C149.3 351.3 148.2 351.7 147.2 351.8 C146.2 352.0 145.2 351.9 144.5 352.1 C143.7 352.2 142.8 350.8 142.6 352.5 C142.5 354.3 143.0 360.7 143.4 362.4 C143.9 364.0 144.6 362.5 145.4 362.3 C146.2 362.1 147.1 361.5 148.0 361.3 C149.0 361.0 150.1 360.9 151.1 360.8 C152.1 360.6 153.2 360.5 154.2 360.5 C155.2 360.5 156.1 360.5 157.1 360.6 C158.1 360.7 159.0 360.9 160.0 361.0 C161.0 361.1 162.0 361.0 163.0 360.9 C164.0 360.9 165.1 360.7 166.1 360.7 C167.1 360.8 168.1 361.3 169.0 361.3 C170.0 361.4 170.9 361.0 171.9 361.0 C172.9 360.9 173.9 361.1 174.9 361.0 C175.9 360.9 176.9 360.4 177.8 360.4 C178.7 360.3 179.6 360.6 180.3 360.7 C181.0 360.8 181.7 362.7 182.0 361.1 C182.3 359.5 182.3 352.9 182.0 351.2 Z" fill="#e84018" filter="url(#b15)"/>
<path d="M219.9 323.7 C220.6 324.8 220.4 323.0 220.8 322.7 C221.2 322.3 221.8 321.9 222.4 321.5 C222.9 321.2 223.6 320.7 224.2 320.4 C224.9 320.1 225.7 320.0 226.3 319.6 C226.9 319.2 227.3 318.5 227.8 318.1 C228.4 317.7 229.1 317.7 229.7 317.3 C230.2 317.0 230.6 316.4 231.0 316.0 C231.5 315.7 232.1 315.4 232.6 315.2 C233.1 315.0 233.7 314.9 234.2 314.6 C234.8 314.4 235.3 314.0 236.0 313.8 C236.6 313.6 237.5 313.7 238.3 313.6 C239.1 313.4 239.9 313.0 240.7 312.8 C241.4 312.6 242.2 312.7 242.8 312.5 C243.5 312.4 244.2 312.5 244.3 311.7 C244.5 310.9 243.9 308.4 243.6 307.8 C243.2 307.2 242.7 308.0 242.1 308.1 C241.5 308.3 240.8 308.5 240.0 308.6 C239.2 308.8 238.3 309.0 237.5 309.2 C236.6 309.3 235.7 309.3 234.9 309.4 C234.1 309.6 233.3 309.8 232.5 310.0 C231.8 310.1 231.1 310.4 230.4 310.6 C229.7 310.8 229.0 310.9 228.4 311.2 C227.8 311.5 227.5 312.2 226.9 312.4 C226.3 312.7 225.6 312.5 225.0 312.8 C224.4 313.0 224.1 313.6 223.5 313.9 C222.9 314.3 222.1 314.5 221.4 314.8 C220.8 315.1 220.1 315.5 219.4 315.7 C218.8 316.0 218.2 316.2 217.6 316.3 C217.1 316.4 215.7 315.0 216.1 316.2 C216.5 317.5 219.1 322.6 219.9 323.7 Z" fill="#e84018" filter="url(#b15)"/>
<path d="M173.9 296.1 C174.4 295.4 173.4 295.9 173.2 295.6 C173.0 295.4 172.9 294.8 172.6 294.5 C172.4 294.2 171.8 294.0 171.5 293.7 C171.1 293.4 170.7 293.1 170.4 292.8 C170.1 292.5 169.9 292.1 169.6 291.8 C169.3 291.5 169.1 291.2 168.8 290.9 C168.5 290.7 168.2 290.4 167.8 290.2 C167.5 289.9 167.1 289.7 166.9 289.4 C166.6 289.1 166.6 288.6 166.3 288.3 C166.1 287.9 165.7 287.7 165.4 287.4 C165.0 287.1 164.7 286.8 164.4 286.4 C164.0 286.1 163.7 285.8 163.3 285.5 C163.0 285.3 162.5 285.1 162.2 285.0 C161.9 284.8 162.1 284.1 161.4 284.6 C160.8 285.0 158.6 287.2 158.2 287.8 C157.7 288.5 158.5 288.2 158.7 288.5 C159.0 288.7 159.3 289.0 159.6 289.3 C159.9 289.6 160.2 290.0 160.5 290.3 C160.9 290.5 161.5 290.6 161.9 290.9 C162.2 291.2 162.3 291.7 162.5 292.0 C162.8 292.4 163.2 292.5 163.5 292.8 C163.8 293.1 163.9 293.5 164.2 293.8 C164.4 294.2 164.5 294.6 164.8 294.9 C165.1 295.2 165.6 295.3 165.9 295.5 C166.2 295.8 166.5 296.1 166.8 296.4 C167.0 296.8 167.3 297.3 167.6 297.6 C167.9 297.9 168.3 298.2 168.6 298.5 C169.0 298.8 169.3 299.1 169.5 299.3 C169.7 299.6 169.3 300.5 170.1 299.9 C170.8 299.4 173.4 296.8 173.9 296.1 Z" fill="#e84018" filter="url(#b15)"/>
<path d="M183.0 321.8 C183.1 320.7 182.2 321.7 181.6 321.5 C181.0 321.3 180.3 321.1 179.5 320.8 C178.8 320.5 177.9 320.2 177.1 320.0 C176.2 319.8 175.2 319.8 174.3 319.6 C173.4 319.4 172.5 319.1 171.6 318.9 C170.8 318.8 169.9 318.6 169.0 318.5 C168.1 318.5 167.2 318.5 166.3 318.6 C165.4 318.6 164.5 318.8 163.6 318.8 C162.7 318.8 161.9 318.4 161.1 318.3 C160.2 318.2 159.4 318.1 158.4 318.0 C157.5 318.0 156.4 318.1 155.4 318.0 C154.5 317.9 153.4 317.6 152.5 317.6 C151.6 317.5 150.7 317.5 150.0 317.5 C149.3 317.5 148.6 316.9 148.2 317.7 C147.8 318.5 147.6 321.5 147.8 322.3 C148.0 323.1 148.9 322.5 149.6 322.6 C150.3 322.7 151.2 322.8 152.1 322.8 C153.0 322.9 154.1 322.7 155.0 322.8 C156.0 322.9 157.0 323.0 158.0 323.2 C158.9 323.4 159.8 323.7 160.7 323.8 C161.5 324.0 162.4 324.0 163.3 324.1 C164.2 324.2 165.1 324.2 166.0 324.3 C166.8 324.4 167.7 324.4 168.5 324.5 C169.3 324.6 170.0 324.6 170.8 324.7 C171.5 324.8 172.2 325.0 172.9 325.2 C173.7 325.4 174.5 325.6 175.3 325.9 C176.1 326.1 176.9 326.3 177.6 326.6 C178.3 327.0 178.8 327.6 179.4 328.0 C179.9 328.3 180.3 329.5 180.9 328.5 C181.5 327.5 182.9 323.0 183.0 321.8 Z" fill="#fac030" filter="url(#b15)"/>
<path d="M186.8 312.5 C186.7 311.9 185.8 312.1 185.2 311.8 C184.6 311.5 183.9 311.0 183.1 310.6 C182.3 310.2 181.4 309.8 180.6 309.4 C179.8 309.0 178.9 308.5 178.2 308.2 C177.4 307.9 176.6 307.7 176.0 307.5 C175.3 307.2 174.8 306.9 174.2 306.6 C173.7 306.3 173.1 306.1 172.6 305.9 C172.0 305.6 171.5 305.3 170.9 305.0 C170.3 304.8 169.8 304.4 169.2 304.1 C168.5 303.8 167.8 303.5 167.1 303.1 C166.4 302.8 165.6 302.3 164.7 302.0 C163.9 301.6 163.0 301.3 162.3 301.0 C161.5 300.7 160.7 300.4 160.0 300.2 C159.4 300.0 158.9 299.5 158.5 299.8 C158.0 300.2 157.4 301.8 157.5 302.2 C157.6 302.7 158.5 302.4 159.1 302.6 C159.8 302.8 160.6 303.0 161.4 303.3 C162.1 303.6 163.0 303.9 163.8 304.3 C164.6 304.7 165.4 305.2 166.1 305.6 C166.8 305.9 167.5 306.2 168.1 306.5 C168.7 306.8 169.2 307.1 169.7 307.4 C170.3 307.7 170.7 308.1 171.3 308.4 C171.8 308.7 172.3 308.9 172.9 309.2 C173.5 309.5 174.0 309.8 174.7 310.1 C175.3 310.4 176.0 310.7 176.7 311.1 C177.5 311.5 178.3 311.9 179.1 312.3 C180.0 312.7 180.8 313.2 181.6 313.6 C182.4 314.0 183.1 314.5 183.7 314.8 C184.3 315.1 184.8 315.8 185.3 315.4 C185.8 315.0 186.8 313.1 186.8 312.5 Z" fill="#fac030" filter="url(#b15)"/>
<path d="M222.4 317.3 C222.9 317.7 223.6 316.8 224.4 316.6 C225.2 316.3 226.3 316.1 227.3 315.9 C228.4 315.6 229.5 315.2 230.7 314.8 C231.8 314.5 233.0 314.1 234.1 313.8 C235.2 313.5 236.3 313.3 237.4 313.0 C238.5 312.8 239.6 312.6 240.7 312.3 C241.8 312.1 243.0 311.9 244.1 311.6 C245.2 311.3 246.4 310.9 247.5 310.7 C248.7 310.4 249.8 310.3 251.0 310.1 C252.2 309.9 253.3 309.6 254.5 309.4 C255.8 309.2 257.2 309.1 258.5 309.0 C259.8 308.8 261.2 308.8 262.4 308.7 C263.6 308.6 264.8 308.4 265.8 308.3 C266.7 308.3 267.8 308.7 268.2 308.3 C268.5 308.0 268.3 306.6 267.9 306.2 C267.5 305.9 266.5 306.3 265.5 306.4 C264.6 306.4 263.4 306.6 262.1 306.7 C260.9 306.8 259.5 306.8 258.2 307.0 C256.9 307.1 255.5 307.3 254.3 307.4 C253.0 307.6 251.8 307.7 250.6 307.9 C249.5 308.1 248.3 308.4 247.2 308.6 C246.0 308.8 244.8 309.1 243.7 309.3 C242.5 309.6 241.4 309.8 240.2 310.0 C239.1 310.2 238.0 310.4 236.8 310.7 C235.7 310.9 234.6 311.2 233.5 311.5 C232.4 311.8 231.1 312.2 230.0 312.5 C228.8 312.7 227.6 313.0 226.5 313.3 C225.5 313.6 224.5 313.8 223.6 314.1 C222.8 314.3 221.8 314.2 221.6 314.7 C221.4 315.3 221.9 317.0 222.4 317.3 Z" fill="#fac030" filter="url(#b15)"/>
<path d="M226.0 343.7 C226.3 344.2 227.2 343.5 228.1 343.5 C228.9 343.5 230.0 343.7 231.1 343.7 C232.2 343.8 233.4 343.8 234.6 343.8 C235.7 343.8 237.0 343.8 238.1 343.7 C239.2 343.6 240.1 343.3 241.1 343.1 C242.1 342.9 243.0 342.6 243.9 342.5 C244.8 342.3 245.8 342.2 246.6 341.9 C247.5 341.7 248.3 341.3 249.1 341.0 C249.9 340.8 250.7 340.6 251.5 340.4 C252.3 340.2 253.1 340.1 253.9 340.0 C254.7 339.9 255.6 339.8 256.4 339.6 C257.2 339.5 258.1 339.2 258.8 339.1 C259.5 338.9 260.3 338.9 260.8 338.7 C261.4 338.6 262.1 338.7 262.2 338.2 C262.4 337.7 262.1 336.1 261.7 335.7 C261.4 335.4 260.9 336.0 260.4 336.2 C259.8 336.4 259.1 336.6 258.3 336.8 C257.6 336.9 256.8 337.0 255.9 337.2 C255.1 337.3 254.2 337.5 253.4 337.6 C252.6 337.7 251.7 337.7 250.9 337.9 C250.0 338.0 249.2 338.3 248.4 338.5 C247.5 338.8 246.7 339.0 245.8 339.2 C245.0 339.4 244.1 339.7 243.3 339.9 C242.4 340.0 241.6 340.2 240.7 340.3 C239.8 340.5 238.9 340.7 237.9 340.8 C236.9 340.8 235.7 340.8 234.6 340.7 C233.5 340.7 232.2 340.6 231.2 340.6 C230.1 340.6 229.0 340.5 228.2 340.5 C227.3 340.4 226.4 339.9 226.0 340.4 C225.6 340.9 225.6 343.1 226.0 343.7 Z" fill="#fac030" filter="url(#b15)"/>
<path d="M217.0 367.0 C216.2 368.4 218.1 368.0 218.9 368.7 C219.7 369.4 220.6 370.4 221.5 371.3 C222.5 372.2 223.7 373.1 224.8 374.0 C225.8 374.9 227.0 375.8 227.9 376.7 C228.8 377.6 229.4 378.5 230.1 379.4 C230.9 380.2 231.6 381.0 232.3 381.6 C233.1 382.3 234.1 382.8 234.9 383.4 C235.7 384.1 236.3 384.9 237.0 385.6 C237.7 386.3 238.5 386.9 239.3 387.5 C240.1 388.2 240.9 388.8 241.7 389.5 C242.5 390.2 243.3 391.0 244.2 391.6 C245.1 392.1 246.2 392.5 247.0 393.0 C247.9 393.5 248.5 394.3 249.1 394.7 C249.6 395.2 249.7 396.4 250.5 395.9 C251.2 395.4 253.5 392.7 253.7 391.8 C254.0 391.0 252.7 391.3 252.1 390.8 C251.5 390.3 250.8 389.6 250.1 389.0 C249.4 388.4 248.6 387.7 247.8 387.0 C247.0 386.4 246.0 385.9 245.2 385.3 C244.4 384.7 243.8 384.0 243.1 383.4 C242.4 382.7 241.8 382.1 241.2 381.4 C240.5 380.7 239.8 380.0 239.3 379.2 C238.7 378.4 238.2 377.4 237.6 376.5 C237.0 375.6 236.5 374.7 235.6 373.9 C234.8 373.2 233.7 372.7 232.8 371.8 C232.0 370.8 231.4 369.3 230.5 368.2 C229.6 367.1 228.5 366.2 227.5 365.3 C226.6 364.4 225.6 363.5 224.9 362.7 C224.3 361.9 224.7 359.9 223.4 360.6 C222.0 361.4 217.7 365.7 217.0 367.0 Z" fill="#fac030" filter="url(#b15)"/>
<path d="M176.0 353.6 C175.8 352.8 175.1 353.6 174.6 353.7 C174.0 353.8 173.3 353.9 172.5 353.9 C171.8 353.9 170.9 353.8 170.1 353.8 C169.3 353.8 168.4 353.8 167.6 353.8 C166.8 353.7 166.0 353.6 165.2 353.7 C164.4 353.7 163.5 353.9 162.7 353.9 C161.8 353.9 160.9 353.8 160.0 353.8 C159.1 353.8 158.1 353.9 157.3 353.9 C156.4 353.9 155.5 353.7 154.7 353.7 C153.9 353.7 153.1 354.0 152.3 354.1 C151.5 354.2 150.7 354.2 150.0 354.3 C149.2 354.5 148.5 354.8 147.8 354.9 C147.2 355.0 146.6 355.1 146.0 355.1 C145.5 355.1 144.9 354.4 144.8 355.0 C144.6 355.7 145.0 358.5 145.3 359.2 C145.6 359.9 146.1 359.2 146.6 359.2 C147.1 359.1 147.7 359.0 148.4 358.9 C149.0 358.8 149.7 358.7 150.5 358.6 C151.2 358.4 151.9 358.1 152.6 357.9 C153.4 357.8 154.1 357.8 154.8 357.8 C155.6 357.8 156.4 357.7 157.3 357.8 C158.1 357.8 159.0 358.0 159.9 358.1 C160.8 358.2 161.7 358.3 162.6 358.3 C163.5 358.3 164.3 358.3 165.2 358.3 C166.0 358.3 166.8 358.2 167.6 358.2 C168.4 358.1 169.3 358.1 170.1 358.1 C170.9 358.2 171.8 358.5 172.5 358.5 C173.3 358.6 174.0 358.5 174.6 358.5 C175.1 358.4 175.8 359.2 176.0 358.4 C176.2 357.5 176.2 354.3 176.0 353.6 Z" fill="#fac030" filter="url(#b15)"/>
<path d="M246 392 L257 388 M249 397 L259 401" stroke="#f49a20" stroke-width="3.5" filter="url(#b05)"/>
<path d="M171 352 C182 350 196 360 204 370 C201 380 197 388 194 392 C184 389 176 384 171 377 C169 368 169 358 171 352 Z" fill="#ee1828" filter="url(#b1)"/>
<circle cx="178.6" cy="356.4" r="2.8" fill="#ff40c8" filter="url(#b1)"/><circle cx="201.8" cy="370" r="2.5" fill="#ff40c8" filter="url(#b1)"/>
<circle cx="175" cy="296.4" r="2.5" fill="#f08a30" filter="url(#b1)"/>
<path d="M183.3 322 C190 316 210 314 219 318 C225 324 228 334 226.5 344 C225 353 221 360 216 364 C211 368 206 370 201 369.5 C194 368 189 364 185 359 C180 352 177.5 345 178 338 C178.5 331 180 326 183.3 322 Z" fill="#e84a18" transform="translate(202 342) scale(1.1) translate(-202 -342)" filter="url(#b1)"/>
<path d="M183.3 322 C190 316 210 314 219 318 C225 324 228 334 226.5 344 C225 353 221 360 216 364 C211 368 206 370 201 369.5 C194 368 189 364 185 359 C180 352 177.5 345 178 338 C178.5 331 180 326 183.3 322 Z" fill="#f8d838" filter="url(#b1)"/>
<path d="M183.3 322 C190 316 210 314 219 318 C225 324 228 334 226.5 344 C225 353 221 360 216 364 C211 368 206 370 201 369.5 C194 368 189 364 185 359 C180 352 177.5 345 178 338 C178.5 331 180 326 183.3 322 Z" fill="#a8a0c0" transform="translate(201 342) scale(0.7) translate(-201 -342)" filter="url(#b15)"/>
<ellipse cx="200.5" cy="341" rx="12.5" ry="13" fill="#5856d4" filter="url(#b2)"/>
<ellipse cx="200" cy="341" rx="7" ry="7" fill="#4040e0" filter="url(#b2)"/>
<g filter="url(#b1)"><ellipse cx="211.3" cy="384.4" rx="10" ry="14" fill="#2028c8"/><ellipse cx="225.5" cy="297.5" rx="8" ry="8.3" fill="#3030d0" stroke="#b02040" stroke-width="1.2"/><ellipse cx="245.3" cy="318.4" rx="8" ry="6" fill="#1820b8"/><ellipse cx="256.3" cy="325.3" rx="8" ry="7" fill="#1820b0"/><ellipse cx="238.4" cy="330.8" rx="7" ry="6" fill="#1a22b8"/><ellipse cx="258" cy="361" rx="7.3" ry="7.3" fill="#2430c8"/><ellipse cx="147.5" cy="293.5" rx="5" ry="7" fill="#3030d8"/></g>
<path d="M250 364 C254 370 262 370 266 364" fill="none" stroke="#30c030" stroke-width="2" filter="url(#b05)"/>
<path d="M247 352 C250 350 253 352 250 357" fill="none" stroke="#f8d030" stroke-width="2.5" filter="url(#b05)"/>
<circle cx="169.7" cy="396" r="7" fill="none" stroke="#e8601a" stroke-width="3" filter="url(#b05)"/>
<ellipse cx="170" cy="400" rx="4" ry="3" fill="#f8d030" filter="url(#b1)"/>
</g>

<!-- Astrocytes -->
<radialGradient id="gAst" cx="0.5" cy="0.5" r="0.5">
 <stop offset="0" stop-color="#f47ae6"/><stop offset="1" stop-color="#ee34d9"/>
</radialGradient>
<g fill="#f02adc">
<path d="M328.1 298.9 C329.7 298.1 327.1 297.4 326.8 296.3 C326.5 295.3 326.6 293.8 326.2 292.5 C325.8 291.3 324.7 290.0 324.3 288.9 C323.9 287.8 323.9 286.9 323.8 285.9 C323.8 285.0 324.2 284.1 324.0 283.1 C323.9 282.1 323.3 281.1 323.0 280.1 C322.8 279.0 323.0 277.7 322.7 276.7 C322.4 275.6 321.6 274.6 321.0 273.7 C320.4 272.7 319.8 271.9 319.3 271.1 C318.7 270.3 318.1 269.6 317.6 268.8 C317.1 268.0 316.6 267.2 316.3 266.3 C315.9 265.3 315.7 264.1 315.4 263.0 C315.2 262.0 314.8 260.8 314.7 259.9 C314.7 259.0 315.3 257.9 314.9 257.6 C314.5 257.3 312.9 257.6 312.5 258.0 C312.1 258.5 312.5 259.3 312.4 260.2 C312.4 261.1 312.2 262.4 312.3 263.5 C312.3 264.6 312.4 265.9 312.6 267.0 C312.9 268.2 313.6 269.1 314.0 270.1 C314.4 271.1 314.8 272.1 315.2 273.1 C315.6 274.0 316.1 274.8 316.4 275.6 C316.7 276.5 317.1 277.2 317.2 278.1 C317.3 278.9 316.9 279.7 316.8 280.6 C316.6 281.5 316.2 282.3 316.2 283.3 C316.1 284.3 316.4 285.4 316.4 286.5 C316.4 287.7 316.2 289.0 316.2 290.3 C316.2 291.7 316.4 293.2 316.5 294.6 C316.6 295.9 316.7 297.4 316.8 298.5 C316.9 299.6 315.4 301.1 317.3 301.1 C319.2 301.2 326.5 299.7 328.1 298.9 Z"/>
<path d="M327.0 302.1 C328.7 302.4 327.5 300.4 328.0 299.2 C328.4 298.1 329.1 296.6 329.7 295.2 C330.2 293.8 330.7 292.1 331.2 290.9 C331.7 289.7 332.2 288.7 332.5 287.7 C332.8 286.7 332.8 285.8 333.0 285.0 C333.3 284.1 334.0 283.4 334.2 282.6 C334.4 281.7 334.1 280.7 334.2 279.8 C334.4 278.8 334.9 277.7 334.9 276.8 C334.9 275.8 334.5 274.8 334.3 273.8 C334.0 272.9 333.6 272.0 333.3 271.2 C333.1 270.4 332.9 269.6 332.7 268.8 C332.5 267.9 332.3 267.0 332.2 266.3 C332.0 265.5 332.0 264.7 332.0 264.0 C332.0 263.4 332.6 262.8 332.2 262.5 C331.9 262.2 330.2 262.2 329.7 262.5 C329.3 262.8 329.5 263.4 329.4 264.0 C329.4 264.7 329.5 265.5 329.6 266.3 C329.6 267.0 329.7 267.9 329.7 268.8 C329.8 269.6 329.8 270.4 329.9 271.3 C330.0 272.2 330.3 273.1 330.4 274.0 C330.4 274.9 330.2 275.9 330.0 276.7 C329.8 277.6 329.5 278.3 329.3 279.1 C329.0 279.8 328.7 280.4 328.4 281.1 C328.2 281.7 328.0 282.3 327.7 283.0 C327.4 283.7 326.9 284.3 326.4 285.1 C325.8 285.9 325.0 286.7 324.4 287.8 C323.8 288.9 323.4 290.4 322.7 291.7 C322.0 293.0 321.0 294.3 320.3 295.3 C319.5 296.3 317.1 296.6 318.2 297.7 C319.3 298.8 325.4 301.9 327.0 302.1 Z"/>
<path d="M324.5 305.0 C325.6 306.3 326.1 303.6 327.2 303.0 C328.4 302.4 330.1 301.8 331.6 301.3 C333.0 300.7 334.7 300.3 335.9 299.8 C337.1 299.2 337.9 298.6 338.7 298.2 C339.5 297.8 340.1 297.8 340.8 297.5 C341.5 297.2 342.1 296.8 342.9 296.5 C343.7 296.1 344.7 296.0 345.6 295.4 C346.5 294.8 347.5 293.9 348.3 293.1 C349.2 292.2 350.1 291.3 350.9 290.3 C351.7 289.4 352.4 288.3 353.1 287.4 C353.8 286.5 354.3 285.6 355.0 284.8 C355.8 284.1 356.7 283.5 357.4 282.8 C358.1 282.1 358.7 281.2 359.3 280.8 C360.0 280.3 361.1 280.5 361.2 280.0 C361.2 279.6 360.3 278.3 359.7 278.1 C359.2 277.9 358.5 278.3 357.8 278.7 C357.1 279.0 356.3 279.7 355.6 280.3 C354.8 281.0 354.1 281.8 353.3 282.5 C352.4 283.2 351.5 283.7 350.7 284.5 C349.8 285.2 349.0 286.3 348.1 287.1 C347.3 287.9 346.3 288.8 345.4 289.4 C344.5 290.0 343.6 290.6 342.8 290.9 C342.0 291.2 341.3 291.2 340.7 291.3 C340.1 291.3 339.7 291.3 339.0 291.3 C338.3 291.3 337.5 291.1 336.5 291.1 C335.6 291.2 334.4 291.4 333.1 291.8 C331.8 292.2 330.3 292.9 328.8 293.4 C327.4 294.0 325.8 294.7 324.5 295.0 C323.2 295.2 321.0 293.3 321.1 295.0 C321.1 296.7 323.5 303.7 324.5 305.0 Z"/>
<path d="M325.0 294.2 C325.3 292.1 323.5 293.5 322.3 293.3 C321.0 293.1 319.2 293.1 317.6 292.8 C316.1 292.5 314.4 292.0 312.9 291.7 C311.5 291.5 310.2 291.5 309.0 291.5 C307.8 291.5 306.8 291.6 305.8 291.7 C304.8 291.8 303.9 291.9 303.0 292.0 C302.1 292.1 301.2 292.1 300.2 292.3 C299.2 292.5 298.0 292.9 296.8 293.2 C295.7 293.4 294.4 293.4 293.2 293.7 C292.1 293.9 291.0 294.4 290.0 294.8 C289.0 295.2 288.1 295.7 287.3 296.2 C286.4 296.7 285.6 297.3 284.9 297.9 C284.2 298.4 283.5 299.0 283.0 299.5 C282.5 300.0 281.8 300.1 281.8 300.7 C281.7 301.3 282.3 302.8 282.7 303.0 C283.1 303.2 283.6 302.4 284.1 302.0 C284.7 301.6 285.3 301.0 286.1 300.7 C286.8 300.3 287.7 300.1 288.5 299.8 C289.4 299.5 290.2 299.2 291.2 299.0 C292.2 298.8 293.4 298.7 294.5 298.5 C295.6 298.4 296.8 298.1 297.9 298.0 C299.0 297.9 300.0 297.8 301.0 298.0 C302.0 298.2 302.9 298.8 303.7 298.9 C304.5 299.0 305.2 298.7 305.9 298.8 C306.5 298.8 307.1 299.1 307.9 299.4 C308.7 299.7 309.3 300.2 310.4 300.5 C311.4 300.8 313.0 301.0 314.3 301.5 C315.6 302.0 317.0 302.8 318.1 303.5 C319.1 304.2 319.5 307.4 320.6 305.8 C321.8 304.3 324.7 296.3 325.0 294.2 Z"/>
<path d="M319.9 295.5 C318.4 294.4 317.9 296.6 316.6 297.6 C315.4 298.7 313.9 300.4 312.4 301.6 C310.9 302.7 308.9 303.7 307.6 304.6 C306.3 305.6 305.3 306.5 304.5 307.3 C303.6 308.2 303.0 308.8 302.4 309.5 C301.9 310.2 301.7 311.0 301.2 311.6 C300.7 312.3 300.2 312.7 299.4 313.2 C298.7 313.7 297.7 314.1 296.7 314.7 C295.8 315.3 295.0 316.1 294.0 316.6 C293.1 317.2 291.9 317.4 291.1 317.9 C290.2 318.4 289.5 318.8 288.9 319.4 C288.3 319.9 287.8 320.4 287.4 321.0 C287.0 321.5 286.7 322.0 286.4 322.5 C286.2 322.9 285.8 323.1 286.0 323.7 C286.2 324.2 287.2 325.5 287.6 325.6 C287.9 325.8 287.9 324.9 288.2 324.5 C288.4 324.1 288.6 323.5 289.1 323.1 C289.5 322.6 290.1 322.3 290.8 321.9 C291.4 321.6 292.2 321.3 293.0 321.0 C293.9 320.7 295.0 320.5 296.1 320.1 C297.1 319.8 298.3 319.5 299.3 319.0 C300.4 318.6 301.3 317.9 302.2 317.5 C303.2 317.0 304.2 316.9 304.9 316.4 C305.6 315.9 305.9 315.1 306.5 314.6 C307.1 314.1 307.9 313.8 308.8 313.3 C309.7 312.7 310.6 312.0 312.0 311.3 C313.4 310.5 315.4 309.8 317.1 308.9 C318.7 308.0 320.4 306.6 321.8 305.8 C323.2 305.1 326.0 306.2 325.6 304.5 C325.3 302.7 321.4 296.6 319.9 295.5 Z"/>
<path d="M318.9 297.8 C317.2 297.5 318.0 299.5 317.4 300.7 C316.8 301.9 316.1 303.6 315.3 305.1 C314.5 306.5 313.3 308.0 312.5 309.4 C311.8 310.9 311.1 312.4 310.9 313.7 C310.6 315.1 311.0 316.5 311.1 317.7 C311.1 318.9 311.1 319.9 311.1 320.8 C311.1 321.8 311.2 322.7 310.9 323.6 C310.7 324.5 310.0 325.3 309.6 326.2 C309.2 327.1 308.9 328.1 308.4 329.0 C307.9 329.9 307.0 330.6 306.4 331.5 C305.8 332.4 305.2 333.3 304.6 334.3 C304.0 335.3 303.5 336.4 303.0 337.4 C302.5 338.4 301.9 339.4 301.5 340.3 C301.2 341.1 300.5 341.8 300.8 342.3 C301.0 342.9 302.6 343.6 303.1 343.5 C303.6 343.3 303.5 342.2 303.9 341.4 C304.3 340.6 304.9 339.6 305.5 338.6 C306.1 337.7 306.8 336.6 307.5 335.8 C308.2 334.9 308.8 334.1 309.5 333.4 C310.3 332.7 311.2 332.2 312.0 331.4 C312.7 330.6 313.4 329.8 314.1 328.8 C314.7 327.9 315.5 326.8 315.9 325.7 C316.3 324.6 316.3 323.2 316.6 322.0 C316.9 320.9 317.4 319.9 317.6 318.8 C317.8 317.8 317.6 316.8 318.1 315.8 C318.5 314.8 319.4 314.2 320.2 313.1 C321.0 312.0 321.9 310.5 322.8 309.2 C323.7 308.0 324.9 306.6 325.7 305.5 C326.4 304.4 328.6 303.9 327.5 302.6 C326.4 301.3 320.6 298.1 318.9 297.8 Z"/>
<path d="M318.8 301.4 C317.7 302.3 319.6 302.8 320.0 303.8 C320.4 304.8 320.9 306.2 321.4 307.4 C322.0 308.6 322.6 309.9 323.2 311.0 C323.8 312.0 324.5 312.9 325.0 313.7 C325.6 314.5 326.1 315.1 326.5 315.7 C326.9 316.4 327.2 316.9 327.4 317.6 C327.6 318.3 327.7 319.0 328.0 319.9 C328.2 320.7 328.6 321.6 329.0 322.6 C329.4 323.6 329.8 324.6 330.3 325.7 C330.7 326.7 331.2 327.8 331.8 328.9 C332.3 330.0 332.9 331.1 333.5 332.3 C334.1 333.6 334.8 335.1 335.4 336.5 C335.9 337.8 336.5 339.3 336.9 340.5 C337.3 341.6 337.4 342.9 338.0 343.3 C338.6 343.6 340.1 343.2 340.3 342.6 C340.6 342.0 339.8 340.9 339.4 339.8 C339.0 338.6 338.5 337.1 337.9 335.7 C337.4 334.3 336.8 332.8 336.3 331.5 C335.8 330.2 335.5 329.0 335.1 327.9 C334.7 326.7 334.1 325.7 333.8 324.5 C333.5 323.4 333.6 322.2 333.3 321.1 C333.1 320.0 332.7 319.0 332.4 318.1 C332.2 317.1 332.3 316.1 332.1 315.2 C331.9 314.4 331.6 313.7 331.4 313.0 C331.1 312.3 330.7 311.9 330.4 311.1 C330.0 310.4 329.6 309.7 329.3 308.6 C328.9 307.6 328.6 306.2 328.3 304.9 C327.9 303.7 327.6 302.3 327.3 301.2 C327.1 300.2 328.1 298.6 326.7 298.6 C325.3 298.6 319.9 300.6 318.8 301.4 Z"/>
<path d="M321.1 304.2 C321.0 305.7 323.1 304.3 324.4 304.7 C325.6 305.0 327.2 306.0 328.7 306.4 C330.2 306.9 332.0 307.1 333.4 307.5 C334.7 307.9 335.8 308.6 336.9 308.9 C337.9 309.3 338.9 309.5 339.7 309.8 C340.6 310.0 341.3 310.3 342.0 310.7 C342.7 311.0 343.3 311.6 344.1 312.0 C344.9 312.5 345.9 313.1 346.9 313.6 C347.9 314.1 348.9 314.6 349.9 315.1 C350.9 315.6 352.1 316.0 352.9 316.6 C353.8 317.2 354.4 318.0 355.0 318.9 C355.6 319.8 356.4 321.1 356.8 322.3 C357.2 323.4 357.3 324.8 357.5 325.9 C357.7 326.9 357.6 328.1 358.0 328.5 C358.4 328.8 359.7 328.3 360.1 327.8 C360.5 327.2 360.3 326.3 360.2 325.2 C360.0 324.2 359.8 322.8 359.4 321.5 C359.0 320.2 358.7 318.7 358.0 317.5 C357.3 316.3 356.4 315.3 355.5 314.4 C354.6 313.4 353.6 312.6 352.6 311.9 C351.6 311.1 350.3 310.7 349.3 310.0 C348.3 309.3 347.5 308.6 346.6 307.9 C345.8 307.2 345.0 306.4 344.1 305.8 C343.3 305.3 342.4 305.0 341.5 304.5 C340.7 304.1 340.0 303.4 339.0 303.0 C338.0 302.6 336.9 302.5 335.7 301.9 C334.4 301.3 333.0 300.2 331.6 299.4 C330.2 298.6 328.6 297.9 327.4 297.3 C326.3 296.7 325.7 294.5 324.6 295.6 C323.5 296.8 321.1 302.7 321.1 304.2 Z"/>
<path d="M338.5 300.0 C338.9 302.0 339.7 304.5 338.9 306.4 C338.1 308.3 335.9 310.3 333.8 311.4 C331.7 312.4 328.8 312.6 326.4 312.9 C323.9 313.3 321.4 313.9 319.1 313.5 C316.7 313.1 314.4 312.0 312.4 310.7 C310.4 309.5 308.4 308.0 307.2 306.2 C306.0 304.4 304.8 302.0 305.1 300.0 C305.3 298.0 307.4 296.1 308.8 294.4 C310.1 292.8 311.5 291.6 313.2 290.1 C314.9 288.6 316.6 286.2 318.8 285.7 C321.0 285.1 324.0 286.2 326.5 286.7 C329.0 287.2 332.1 287.3 333.8 288.6 C335.5 290.0 335.8 292.6 336.6 294.5 C337.4 296.4 338.1 298.0 338.5 300.0 Z"/>
<path d="M434.2 299.6 C434.7 297.4 431.5 297.6 429.6 296.3 C427.8 295.1 425.0 293.6 422.9 292.1 C420.8 290.6 418.7 288.6 417.0 287.4 C415.4 286.3 413.8 286.0 412.9 285.3 C412.0 284.6 412.2 283.9 411.6 283.4 C411.0 283.0 410.2 283.0 409.5 282.6 C408.9 282.1 408.2 281.4 407.5 280.9 C406.8 280.4 406.0 280.0 405.3 279.5 C404.6 279.0 403.9 278.6 403.3 278.1 C402.7 277.5 402.2 276.9 401.7 276.4 C401.2 275.8 400.8 275.3 400.3 274.6 C399.8 274.0 399.4 273.2 398.9 272.5 C398.4 271.9 397.8 271.3 397.4 270.8 C397.0 270.3 396.8 269.4 396.4 269.5 C395.9 269.5 394.6 270.5 394.5 271.0 C394.4 271.5 395.2 271.7 395.5 272.3 C395.9 272.8 396.3 273.6 396.7 274.4 C397.1 275.1 397.5 276.0 397.8 276.8 C398.1 277.6 398.3 278.6 398.7 279.3 C399.1 280.1 399.7 280.6 400.2 281.3 C400.6 282.0 400.9 282.8 401.5 283.4 C402.0 284.0 402.9 284.3 403.3 284.8 C403.7 285.4 403.5 286.0 403.8 286.5 C404.2 287.1 404.9 287.2 405.5 288.0 C406.1 288.7 406.4 289.7 407.3 290.9 C408.2 292.0 409.4 293.3 410.9 294.9 C412.4 296.5 414.3 298.8 416.3 300.5 C418.3 302.2 421.1 303.7 422.8 305.2 C424.4 306.7 424.5 310.4 426.4 309.5 C428.3 308.5 433.6 301.8 434.2 299.6 Z"/>
<path d="M436.4 305.7 C438.4 305.5 436.3 303.6 436.5 302.2 C436.7 300.7 437.4 298.8 437.6 296.9 C437.8 295.1 437.8 293.0 437.7 291.3 C437.6 289.6 437.3 288.1 437.1 286.8 C436.8 285.5 436.6 284.4 436.3 283.4 C435.9 282.4 435.2 281.6 434.8 280.7 C434.3 279.8 434.1 278.9 433.6 277.9 C433.2 276.8 432.5 275.6 432.0 274.4 C431.5 273.1 431.1 271.6 430.5 270.4 C430.0 269.2 429.3 268.0 428.6 267.0 C428.0 265.9 427.3 265.0 426.6 264.2 C425.9 263.4 425.2 262.7 424.5 262.1 C423.8 261.4 423.1 260.9 422.5 260.5 C421.9 260.0 421.6 259.4 421.0 259.5 C420.5 259.6 419.2 260.5 419.1 260.9 C419.0 261.3 420.1 261.5 420.5 262.0 C421.0 262.5 421.5 263.2 422.0 263.9 C422.6 264.6 423.2 265.3 423.8 266.1 C424.3 266.9 424.8 267.8 425.2 268.9 C425.6 270.0 425.8 271.5 426.1 272.7 C426.4 274.0 426.8 275.5 427.2 276.6 C427.5 277.8 428.2 278.8 428.4 279.8 C428.6 280.9 428.4 282.0 428.5 282.8 C428.6 283.7 428.8 284.2 428.9 284.9 C429.1 285.6 429.6 286.2 429.5 287.1 C429.5 287.9 429.0 288.9 428.6 290.2 C428.2 291.5 427.4 293.2 427.0 294.8 C426.6 296.4 426.6 298.4 426.2 299.8 C425.7 301.2 422.6 302.3 424.3 303.3 C426.0 304.3 434.4 305.9 436.4 305.7 Z"/>
<path d="M431.2 299.1 C430.7 297.1 428.3 297.8 426.2 297.5 C424.1 297.3 421.0 297.9 418.6 297.7 C416.1 297.6 413.4 296.8 411.3 296.5 C409.3 296.2 407.7 296.2 406.2 296.0 C404.8 295.9 403.8 295.8 402.7 295.6 C401.6 295.4 400.8 295.1 399.7 294.9 C398.7 294.8 397.6 294.8 396.4 294.8 C395.2 294.8 393.8 295.1 392.6 294.9 C391.4 294.8 390.3 294.2 389.1 294.0 C388.0 293.7 386.8 293.6 385.8 293.3 C384.8 292.9 384.0 292.4 383.1 292.1 C382.3 291.7 381.4 291.2 380.6 290.9 C379.8 290.6 379.0 290.3 378.4 290.2 C377.7 290.0 377.0 289.5 376.6 289.9 C376.2 290.2 375.6 291.6 375.8 292.1 C375.9 292.5 376.7 292.4 377.3 292.7 C377.9 293.0 378.7 293.5 379.4 294.0 C380.2 294.5 381.1 295.0 381.9 295.6 C382.8 296.1 383.7 296.7 384.7 297.2 C385.7 297.7 386.9 297.9 388.0 298.4 C389.1 298.9 390.3 299.6 391.4 300.0 C392.6 300.5 393.8 300.7 394.9 301.0 C395.9 301.3 396.8 301.6 397.8 301.9 C398.8 302.2 399.7 302.4 400.8 302.8 C401.9 303.2 402.9 303.8 404.4 304.3 C405.8 304.8 407.5 305.3 409.6 305.8 C411.7 306.3 414.4 306.9 416.9 307.4 C419.3 307.8 422.2 308.2 424.3 308.6 C426.4 309.0 428.2 311.3 429.4 309.7 C430.5 308.1 431.8 301.2 431.2 299.1 Z"/>
<path d="M431.9 310.4 C433.0 312.0 434.0 308.5 435.7 307.9 C437.4 307.2 439.9 307.0 441.9 306.4 C443.9 305.8 446.1 304.8 447.9 304.2 C449.6 303.6 451.1 303.3 452.3 302.8 C453.5 302.3 454.4 301.8 455.3 301.2 C456.2 300.6 456.8 299.9 457.6 299.3 C458.4 298.7 459.2 298.3 460.1 297.7 C461.0 297.1 462.1 296.5 463.0 295.7 C463.9 295.0 464.7 294.0 465.6 293.4 C466.5 292.7 467.6 292.3 468.5 291.9 C469.4 291.4 470.3 291.1 471.1 290.7 C472.0 290.3 473.0 289.9 473.8 289.5 C474.6 289.1 475.5 288.8 476.1 288.4 C476.8 288.1 477.6 288.0 477.7 287.5 C477.8 287.0 477.1 285.6 476.7 285.3 C476.2 285.1 475.7 285.8 475.0 286.1 C474.3 286.3 473.4 286.6 472.5 286.8 C471.5 287.0 470.5 287.2 469.5 287.5 C468.4 287.7 467.5 288.1 466.4 288.4 C465.4 288.8 464.3 289.2 463.3 289.7 C462.2 290.2 461.3 290.9 460.3 291.4 C459.4 291.9 458.4 292.3 457.6 292.7 C456.7 293.1 455.8 293.3 455.0 293.7 C454.2 294.1 453.7 294.7 452.9 295.1 C452.1 295.4 451.1 295.4 449.9 295.7 C448.7 295.9 447.4 296.3 445.7 296.6 C444.0 296.9 441.6 297.1 439.5 297.4 C437.5 297.7 435.1 298.2 433.3 298.4 C431.5 298.6 429.0 296.6 428.8 298.7 C428.5 300.7 430.7 308.9 431.9 310.4 Z"/>
<path d="M428.6 309.8 C428.9 311.6 431.2 310.5 433.1 310.8 C434.9 311.2 437.4 311.6 439.5 312.1 C441.6 312.6 443.9 313.3 445.6 313.8 C447.3 314.2 448.5 314.4 449.5 314.7 C450.6 315.0 451.1 315.2 451.9 315.4 C452.7 315.6 453.5 315.9 454.4 315.9 C455.3 315.8 456.2 315.3 457.3 315.0 C458.3 314.7 459.5 314.7 460.5 314.3 C461.5 313.9 462.3 312.9 463.2 312.4 C464.1 311.9 465.1 311.5 466.0 311.1 C466.9 310.7 467.7 310.4 468.6 310.1 C469.5 309.8 470.6 309.5 471.5 309.4 C472.4 309.2 473.5 309.3 474.3 309.3 C475.1 309.3 476.0 309.7 476.3 309.3 C476.5 308.9 476.1 307.3 475.7 306.9 C475.3 306.5 474.6 306.8 473.8 306.8 C473.0 306.7 471.9 306.7 470.9 306.7 C469.9 306.7 468.8 306.5 467.8 306.7 C466.7 306.8 465.8 307.2 464.8 307.5 C463.8 307.8 462.8 308.2 461.8 308.5 C460.8 308.8 459.8 309.1 459.0 309.3 C458.2 309.6 457.4 309.9 456.8 309.9 C456.3 309.9 455.9 309.5 455.4 309.4 C455.0 309.2 454.7 309.3 454.1 309.0 C453.6 308.7 453.0 308.0 452.0 307.5 C451.0 307.0 449.6 306.8 447.9 306.2 C446.2 305.7 444.0 304.8 442.0 304.0 C440.0 303.3 437.7 302.3 436.0 301.6 C434.2 301.0 432.9 298.7 431.7 300.0 C430.5 301.4 428.4 308.0 428.6 309.8 Z"/>
<path d="M427.2 299.8 C425.6 298.9 425.3 302.4 423.7 303.7 C422.2 305.0 419.7 306.4 417.9 307.7 C416.0 309.0 413.8 310.4 412.4 311.5 C411.1 312.6 410.4 313.6 409.7 314.2 C409.0 314.7 408.8 314.6 408.3 314.7 C407.8 314.8 407.5 314.7 406.9 314.9 C406.3 315.0 405.3 315.3 404.5 315.5 C403.8 315.8 403.1 316.0 402.5 316.4 C401.9 316.7 401.5 317.3 400.9 317.7 C400.4 318.1 399.9 318.4 399.5 318.8 C399.0 319.2 398.5 319.6 398.0 320.1 C397.5 320.6 397.0 321.5 396.5 322.0 C395.9 322.5 395.3 322.9 394.8 323.3 C394.4 323.6 393.7 323.6 393.7 324.1 C393.6 324.6 394.3 325.9 394.7 326.1 C395.1 326.4 395.4 325.8 395.9 325.5 C396.4 325.2 397.1 324.9 397.7 324.5 C398.3 324.1 399.0 323.7 399.5 323.3 C400.1 322.8 400.6 322.3 401.1 322.0 C401.7 321.6 402.2 321.4 402.8 321.2 C403.5 321.0 404.1 321.0 404.7 320.9 C405.4 320.8 406.1 320.7 406.6 320.7 C407.0 320.8 407.1 321.1 407.5 321.2 C407.9 321.2 408.4 321.1 409.2 321.0 C410.1 320.9 411.2 321.1 412.5 320.7 C413.7 320.2 415.1 319.4 416.7 318.4 C418.4 317.4 420.5 315.7 422.5 314.6 C424.6 313.4 427.3 312.4 429.1 311.5 C430.9 310.6 433.7 311.0 433.4 309.1 C433.1 307.1 428.8 300.7 427.2 299.8 Z"/>
<path d="M426.0 302.6 C424.3 302.5 425.0 304.6 424.4 306.0 C423.7 307.5 422.8 309.4 422.2 311.2 C421.6 313.0 421.3 315.2 420.8 316.9 C420.3 318.5 419.6 319.8 419.1 321.0 C418.7 322.3 418.4 323.3 418.3 324.4 C418.2 325.4 418.7 326.2 418.7 327.1 C418.8 327.9 418.5 328.5 418.5 329.4 C418.6 330.3 418.8 331.5 418.8 332.5 C418.8 333.5 418.6 334.5 418.4 335.5 C418.2 336.5 417.9 337.5 417.7 338.4 C417.4 339.3 417.2 340.2 416.9 341.0 C416.6 341.9 416.4 342.9 416.1 343.7 C415.7 344.5 415.3 345.3 415.1 345.9 C414.8 346.5 414.2 347.1 414.4 347.5 C414.7 347.8 416.1 348.2 416.7 348.0 C417.2 347.9 417.3 347.1 417.7 346.5 C418.0 345.9 418.4 345.1 418.8 344.3 C419.3 343.6 419.8 342.7 420.2 341.9 C420.6 341.1 421.2 340.4 421.5 339.5 C421.8 338.7 421.8 337.7 422.1 336.7 C422.4 335.8 423.0 334.9 423.4 333.9 C423.7 332.9 424.0 331.9 424.2 330.9 C424.4 329.9 424.6 328.8 424.8 327.9 C425.0 327.0 425.3 326.3 425.6 325.4 C425.8 324.6 425.9 323.8 426.3 322.9 C426.7 321.9 427.3 321.0 428.0 319.7 C428.7 318.4 429.9 316.6 430.6 315.0 C431.4 313.3 431.9 311.2 432.6 309.8 C433.2 308.4 435.7 307.6 434.6 306.4 C433.5 305.2 427.7 302.6 426.0 302.6 Z"/>
<path d="M424.7 307.3 C423.2 308.7 426.5 308.6 427.3 309.8 C428.0 311.0 428.4 313.0 429.2 314.4 C430.1 315.9 431.5 317.4 432.4 318.6 C433.3 319.9 434.1 320.9 434.8 321.9 C435.5 322.9 436.0 323.7 436.5 324.5 C437.1 325.4 437.5 326.2 438.2 326.8 C439.0 327.4 440.1 327.6 440.9 328.2 C441.7 328.9 442.3 329.9 443.2 330.6 C444.1 331.3 445.1 331.8 446.1 332.4 C447.1 333.0 448.3 333.4 449.2 334.0 C450.1 334.5 450.8 335.3 451.7 335.9 C452.5 336.6 453.5 337.2 454.4 337.9 C455.2 338.5 456.0 339.3 456.6 339.9 C457.2 340.5 457.6 341.5 458.0 341.4 C458.5 341.4 459.3 340.2 459.4 339.6 C459.4 338.9 458.7 338.3 458.2 337.6 C457.7 336.9 456.9 336.2 456.1 335.5 C455.4 334.7 454.5 334.0 453.8 333.2 C453.1 332.5 452.6 331.7 451.9 331.0 C451.2 330.2 450.4 329.5 449.6 328.8 C448.8 328.1 448.0 327.4 447.3 326.7 C446.5 325.9 445.9 325.1 445.3 324.3 C444.7 323.6 444.2 322.9 443.7 322.2 C443.2 321.5 442.5 321.1 442.2 320.3 C441.9 319.4 442.2 318.3 441.9 317.3 C441.6 316.3 441.2 315.4 440.6 314.1 C440.1 312.9 439.1 311.3 438.4 309.9 C437.7 308.4 436.7 306.8 436.3 305.4 C435.9 304.1 438.1 301.2 436.2 301.6 C434.3 301.9 426.2 305.9 424.7 307.3 Z"/>
<path d="M451.7 304.5 C452.0 306.9 451.3 310.0 449.6 311.9 C447.9 313.8 444.2 314.7 441.6 315.9 C439.1 317.0 437.0 317.9 434.4 318.8 C431.7 319.6 428.5 321.1 425.6 320.9 C422.8 320.7 419.7 319.0 417.4 317.4 C415.1 315.9 412.9 313.7 411.9 311.6 C410.9 309.4 411.2 306.8 411.2 304.5 C411.2 302.2 411.0 299.6 412.1 297.5 C413.2 295.4 415.4 293.3 417.7 291.9 C420.0 290.4 423.0 289.1 425.8 288.8 C428.6 288.5 431.7 289.4 434.4 290.0 C437.2 290.6 440.3 291.0 442.5 292.3 C444.7 293.6 446.3 295.7 447.8 297.8 C449.3 299.8 451.4 302.1 451.7 304.5 Z"/>
<path d="M314.6 399.2 C315.1 397.6 313.1 397.9 311.8 397.1 C310.6 396.4 308.7 395.7 307.3 394.8 C305.8 393.9 304.4 392.6 303.2 391.8 C301.9 390.9 300.7 390.5 299.7 389.9 C298.8 389.2 298.2 388.4 297.4 387.9 C296.5 387.5 295.4 387.5 294.6 387.1 C293.8 386.7 293.2 385.9 292.3 385.5 C291.5 385.1 290.5 384.8 289.6 384.6 C288.6 384.4 287.7 384.4 286.8 384.4 C285.9 384.4 285.0 384.6 284.2 384.5 C283.3 384.4 282.5 384.1 281.6 383.9 C280.7 383.7 279.6 383.5 278.7 383.3 C277.8 383.0 276.9 382.7 276.2 382.3 C275.5 382.0 275.0 381.0 274.6 381.2 C274.2 381.4 273.6 382.9 273.7 383.5 C273.8 384.1 274.6 384.4 275.2 384.8 C275.9 385.3 276.8 385.7 277.7 386.1 C278.5 386.5 279.5 386.9 280.4 387.2 C281.3 387.4 282.2 387.4 283.1 387.7 C283.9 387.9 284.7 388.2 285.4 388.5 C286.2 388.8 286.9 389.2 287.7 389.6 C288.4 389.9 289.1 390.2 289.8 390.6 C290.6 390.9 291.3 391.3 291.9 391.8 C292.5 392.3 293.1 392.9 293.7 393.6 C294.3 394.4 294.7 395.4 295.4 396.2 C296.1 397.0 297.0 397.8 298.1 398.7 C299.3 399.6 300.9 400.5 302.3 401.5 C303.6 402.4 305.1 403.7 306.2 404.5 C307.3 405.4 307.6 407.6 309.0 406.7 C310.4 405.8 314.1 400.8 314.6 399.2 Z"/>
<path d="M316.1 401.6 C317.4 400.5 315.8 399.5 315.3 398.2 C314.8 396.9 313.5 395.3 312.8 393.7 C312.2 392.1 312.0 390.1 311.3 388.7 C310.7 387.3 310.0 386.1 309.2 385.1 C308.4 384.2 307.4 383.7 306.6 383.1 C305.9 382.5 305.4 382.0 304.8 381.4 C304.2 380.8 303.9 380.3 303.2 379.7 C302.5 379.1 301.5 378.7 300.8 378.1 C300.1 377.4 299.6 376.4 299.0 375.7 C298.4 374.9 297.8 374.2 297.3 373.5 C296.7 372.8 296.3 371.9 295.8 371.3 C295.2 370.8 294.4 370.4 293.8 370.0 C293.2 369.6 292.6 369.1 292.1 368.9 C291.6 368.6 291.3 368.2 290.8 368.5 C290.3 368.8 289.3 370.0 289.3 370.4 C289.2 370.9 290.0 370.8 290.5 371.1 C290.9 371.4 291.5 371.8 292.0 372.2 C292.5 372.7 293.1 373.2 293.5 373.9 C294.0 374.5 294.2 375.2 294.6 376.0 C295.0 376.7 295.6 377.5 296.0 378.3 C296.4 379.2 296.6 380.3 297.1 381.1 C297.6 381.9 298.4 382.4 299.0 383.1 C299.5 383.7 299.9 384.6 300.4 385.2 C300.8 385.9 301.2 386.3 301.6 387.0 C302.0 387.6 302.2 388.1 302.6 388.9 C303.0 389.7 303.6 390.4 304.1 391.7 C304.5 392.9 304.9 394.8 305.3 396.3 C305.7 397.9 306.3 399.7 306.5 401.1 C306.8 402.5 305.4 404.7 307.0 404.8 C308.6 404.8 314.7 402.6 316.1 401.6 Z"/>
<path d="M316.2 405.6 C318.1 406.0 317.6 404.2 318.3 403.0 C319.0 401.8 319.7 400.0 320.3 398.3 C321.0 396.7 321.7 394.9 322.2 393.3 C322.7 391.7 323.1 390.1 323.3 388.8 C323.5 387.4 323.7 386.2 323.5 385.1 C323.3 383.9 322.5 383.0 322.3 382.1 C322.0 381.1 322.0 380.3 322.1 379.4 C322.2 378.4 322.5 377.4 322.6 376.4 C322.8 375.4 323.0 374.3 323.1 373.3 C323.1 372.3 323.1 371.3 323.2 370.3 C323.2 369.3 323.4 368.4 323.4 367.4 C323.4 366.5 323.4 365.5 323.3 364.6 C323.2 363.7 322.9 362.8 322.7 362.1 C322.5 361.4 322.5 360.7 322.0 360.4 C321.6 360.1 320.1 360.1 319.8 360.4 C319.6 360.7 320.3 361.4 320.4 362.1 C320.5 362.8 320.6 363.7 320.6 364.6 C320.5 365.5 320.1 366.4 320.0 367.4 C319.8 368.3 319.9 369.1 319.6 370.0 C319.3 370.9 318.6 371.9 318.2 372.8 C317.8 373.8 317.5 374.8 317.3 375.8 C317.1 376.8 317.2 377.8 317.0 378.9 C316.8 379.9 316.2 381.1 316.1 382.0 C316.0 383.0 316.4 383.9 316.2 384.7 C316.1 385.6 315.6 386.2 315.2 387.0 C314.9 387.8 314.6 388.5 314.1 389.6 C313.6 390.8 313.2 392.6 312.3 393.9 C311.5 395.2 310.0 396.5 309.1 397.6 C308.2 398.7 305.9 399.2 307.1 400.6 C308.3 401.9 314.3 405.2 316.2 405.6 Z"/>
<path d="M313.2 407.7 C314.3 408.9 315.1 406.3 316.4 405.8 C317.8 405.2 319.8 405.0 321.4 404.3 C323.0 403.6 324.7 402.3 326.1 401.7 C327.6 401.1 328.9 401.0 330.1 400.7 C331.3 400.4 332.4 400.2 333.5 399.9 C334.5 399.6 335.4 399.0 336.5 398.7 C337.5 398.3 338.6 398.2 339.6 397.8 C340.7 397.3 341.8 396.7 342.8 396.1 C343.8 395.5 344.7 394.8 345.6 394.3 C346.4 393.8 347.3 393.5 348.1 393.3 C348.8 393.0 349.4 392.8 350.2 392.8 C351.0 392.8 351.9 393.0 352.6 393.3 C353.3 393.6 354.1 394.0 354.7 394.5 C355.2 394.9 355.5 396.1 355.9 396.0 C356.3 395.9 356.9 394.4 356.9 393.8 C356.9 393.2 356.4 393.0 355.9 392.5 C355.4 392.0 354.8 391.2 354.0 390.7 C353.1 390.2 352.1 389.6 351.0 389.4 C350.0 389.2 348.7 389.4 347.5 389.6 C346.4 389.9 345.4 390.3 344.3 390.6 C343.3 391.0 342.2 391.6 341.2 391.9 C340.2 392.3 339.2 392.8 338.2 393.0 C337.2 393.1 336.1 392.9 335.0 393.0 C333.9 393.1 332.9 393.4 331.8 393.6 C330.7 393.8 329.5 393.9 328.2 394.1 C326.9 394.3 325.5 394.5 323.9 394.8 C322.3 395.1 320.4 395.5 318.6 396.0 C316.9 396.4 315.1 397.2 313.7 397.6 C312.3 398.0 310.2 396.7 310.1 398.3 C310.0 400.0 312.2 406.4 313.2 407.7 Z"/>
<path d="M310.7 407.8 C311.0 409.5 312.8 408.2 314.1 408.3 C315.5 408.4 317.3 408.1 318.8 408.2 C320.3 408.3 322.0 408.7 323.3 408.9 C324.6 409.1 325.6 409.2 326.6 409.6 C327.6 410.0 328.3 410.6 329.2 411.2 C330.1 411.8 330.9 412.7 331.9 413.4 C332.9 414.1 334.1 414.9 335.4 415.4 C336.6 415.9 338.0 415.9 339.3 416.3 C340.6 416.6 341.9 417.1 343.2 417.4 C344.5 417.6 345.8 417.8 347.1 417.9 C348.3 418.0 349.5 418.0 350.7 418.0 C351.9 418.0 353.2 417.9 354.3 417.9 C355.4 417.9 356.5 417.9 357.4 418.1 C358.3 418.2 359.1 419.0 359.5 418.7 C359.9 418.4 360.0 416.8 359.7 416.3 C359.4 415.7 358.4 415.7 357.5 415.6 C356.7 415.4 355.5 415.3 354.5 415.2 C353.4 415.0 352.3 414.9 351.2 414.7 C350.1 414.5 349.1 414.3 348.0 414.1 C346.9 413.9 345.7 413.6 344.4 413.3 C343.2 413.0 341.9 412.8 340.7 412.4 C339.5 412.0 338.3 411.5 337.4 410.9 C336.5 410.3 335.9 409.3 335.1 408.6 C334.3 407.9 333.4 407.3 332.5 406.5 C331.6 405.7 330.8 404.7 329.6 403.9 C328.4 403.2 326.8 402.7 325.3 402.1 C323.8 401.4 322.0 400.6 320.4 400.0 C318.8 399.5 317.0 399.3 315.7 399.0 C314.4 398.7 313.6 396.7 312.7 398.1 C311.9 399.6 310.5 406.1 310.7 407.8 Z"/>
<path d="M307.8 398.7 C306.2 397.7 306.6 400.1 305.8 401.0 C304.9 401.9 303.7 403.1 302.7 404.3 C301.7 405.4 300.6 406.9 299.7 408.0 C298.7 409.1 297.7 409.9 297.0 410.9 C296.2 411.8 295.8 413.0 295.1 413.9 C294.5 414.8 293.6 415.4 293.0 416.3 C292.4 417.1 291.9 418.0 291.4 418.8 C290.9 419.7 290.6 420.6 290.1 421.4 C289.7 422.3 289.2 423.0 288.9 423.8 C288.5 424.6 288.2 425.4 287.9 426.2 C287.7 427.0 287.6 427.9 287.4 428.7 C287.2 429.5 286.9 430.3 286.6 431.0 C286.4 431.7 286.1 432.4 285.7 432.9 C285.4 433.3 284.6 433.6 284.8 434.0 C284.9 434.3 286.2 434.9 286.7 434.9 C287.3 434.9 287.7 434.4 288.1 433.9 C288.5 433.5 288.7 432.8 289.1 432.2 C289.4 431.5 289.9 430.9 290.2 430.2 C290.5 429.6 290.8 428.9 291.1 428.3 C291.4 427.6 291.7 426.8 292.2 426.2 C292.7 425.5 293.4 425.0 294.0 424.4 C294.7 423.7 295.4 423.1 296.0 422.5 C296.7 421.8 297.4 421.1 298.1 420.5 C298.9 419.8 299.7 419.2 300.5 418.6 C301.3 417.9 301.9 417.0 302.8 416.3 C303.7 415.7 304.8 415.3 305.9 414.6 C307.0 413.8 308.2 412.7 309.3 411.7 C310.4 410.8 311.6 409.5 312.6 408.8 C313.6 408.1 316.4 409.1 315.6 407.5 C314.8 405.8 309.4 399.8 307.8 398.7 Z"/>
<path d="M305.5 403.5 C303.6 404.2 306.1 405.6 306.4 407.0 C306.6 408.4 307.0 410.3 307.3 411.9 C307.6 413.6 308.2 415.4 308.4 416.8 C308.7 418.2 308.7 419.3 308.8 420.4 C309.0 421.5 309.2 422.4 309.2 423.3 C309.2 424.3 309.2 425.2 309.1 426.0 C308.9 426.9 308.6 427.8 308.4 428.6 C308.2 429.4 308.2 430.2 308.1 430.9 C308.0 431.7 307.9 432.5 307.8 433.3 C307.7 434.1 307.5 434.8 307.5 435.7 C307.4 436.5 307.4 437.4 307.4 438.3 C307.4 439.2 307.4 440.3 307.4 441.2 C307.3 442.1 307.3 443.1 307.3 443.9 C307.3 444.7 306.9 445.4 307.3 445.8 C307.7 446.2 309.2 446.6 309.6 446.4 C310.0 446.2 309.8 445.3 309.9 444.5 C310.0 443.8 310.1 442.8 310.2 441.9 C310.4 441.0 310.4 440.0 310.6 439.1 C310.8 438.2 311.1 437.5 311.3 436.7 C311.6 435.9 311.5 435.2 311.9 434.4 C312.2 433.7 313.0 433.0 313.4 432.2 C313.8 431.4 313.8 430.5 314.2 429.6 C314.6 428.7 315.3 428.0 315.6 427.0 C316.0 426.1 316.1 425.2 316.3 424.1 C316.5 423.0 316.7 422.0 316.8 420.7 C316.9 419.4 316.9 418.1 316.8 416.5 C316.8 414.9 316.4 413.0 316.5 411.3 C316.6 409.6 317.2 407.6 317.4 406.1 C317.6 404.7 319.8 403.1 317.8 402.7 C315.8 402.2 307.5 402.8 305.5 403.5 Z"/>
<path d="M308.7 405.5 C308.0 406.8 309.9 407.6 310.9 408.8 C311.9 409.9 313.6 411.3 314.8 412.6 C316.0 413.9 317.3 415.4 318.2 416.6 C319.1 417.7 319.7 418.6 320.2 419.5 C320.6 420.4 320.5 421.2 320.8 422.1 C321.0 423.0 321.3 423.8 321.7 424.8 C322.0 425.7 322.3 426.8 322.7 427.8 C323.1 428.8 323.4 429.8 323.9 430.8 C324.4 431.7 325.3 432.5 325.8 433.4 C326.3 434.3 326.7 435.3 327.0 436.3 C327.4 437.2 327.6 438.2 327.8 439.3 C328.1 440.3 328.3 441.6 328.5 442.7 C328.6 443.8 328.6 445.0 328.7 445.9 C328.7 446.9 328.2 448.0 328.6 448.3 C329.0 448.6 330.5 448.3 330.9 447.8 C331.3 447.4 331.0 446.5 331.1 445.5 C331.1 444.6 331.3 443.3 331.3 442.2 C331.3 441.0 331.2 439.7 331.1 438.6 C330.9 437.4 330.5 436.4 330.2 435.4 C329.9 434.4 329.4 433.4 329.1 432.4 C328.8 431.4 328.6 430.4 328.3 429.4 C328.1 428.4 327.7 427.4 327.4 426.4 C327.2 425.5 327.0 424.7 326.8 423.7 C326.6 422.8 326.4 421.9 326.2 420.8 C326.0 419.7 326.2 418.4 325.8 417.1 C325.3 415.8 324.6 414.4 323.7 412.9 C322.9 411.4 321.7 409.6 320.6 408.0 C319.6 406.4 318.4 404.6 317.5 403.3 C316.6 402.1 316.6 400.1 315.1 400.4 C313.7 400.8 309.4 404.1 308.7 405.5 Z"/>
<path d="M326.8 403.1 C326.8 405.1 327.0 407.4 326.1 409.2 C325.2 410.9 323.1 412.4 321.3 413.7 C319.5 415.0 317.5 416.3 315.3 416.9 C313.1 417.4 310.2 417.6 308.1 416.9 C306.0 416.3 304.2 414.5 302.6 413.1 C301.0 411.7 300.0 410.2 298.7 408.6 C297.4 406.9 295.0 405.0 294.9 403.1 C294.8 401.2 296.8 399.1 298.1 397.3 C299.3 395.6 300.7 394.3 302.3 392.8 C303.9 391.3 305.7 388.9 307.9 388.4 C310.0 387.8 312.8 389.1 315.2 389.7 C317.6 390.2 320.4 390.4 322.2 391.6 C324.0 392.8 325.1 395.2 325.9 397.1 C326.7 399.0 326.8 401.1 326.8 403.1 Z"/>
</g>
<g fill="#f680e8" opacity="0.6" filter="url(#b3)">
 <circle cx="326" cy="296" r="9"/><circle cx="434" cy="300" r="11"/><circle cx="315" cy="399" r="9"/>
</g>
<g>
 <circle cx="322.8" cy="300" r="7.2" fill="url(#gNuc)" stroke="#f8d0ee" stroke-width="1.2"/>
 <circle cx="430.8" cy="305.2" r="8.4" fill="url(#gNuc)" stroke="#f8d0ee" stroke-width="1.2"/>
 <circle cx="311.7" cy="403.1" r="7.6" fill="url(#gNuc)" stroke="#f8d0ee" stroke-width="1.2"/>
</g>

<!-- Starburst -->
<path d="M460.5 341.7 L491.2 351.8 L498.2 329.6 L514.4 352.8 L539.4 338.75 L550.3 357.5 L581.6 348 L573.75 374.7 L598.75 376.25 L583.5 390.5 L617 404 L579.5 405.8 L582.2 416.5 L575.2 439 L550 421.5 L537.8 435.6 L523.75 420 L512.8 432.5 L500.3 420 L483 425 L480.5 413.8 L459 419.5 L462.5 401.8 L438.8 389.4 L462 381 L441 360.9 L471 364.5 Z" fill="#c1b99b" filter="url(#sh)"/>

<!-- Neuron axon beads -->
<path d="M420 392 C425 397 429 401 433 405.5 L431 407 C427 403 423 399 418.5 394 Z" fill="#6e625a"/>
<g fill="#a99b90">
 <ellipse cx="437" cy="409" rx="8" ry="3.3" transform="rotate(47 437 409)"/>
 <ellipse cx="446.4" cy="419.2" rx="8" ry="3.3" transform="rotate(47 446.4 419.2)"/>
 <ellipse cx="456.6" cy="430.4" rx="8" ry="3.3" transform="rotate(47 456.6 430.4)"/>
 <ellipse cx="468" cy="442.6" rx="8.4" ry="3.4" transform="rotate(46 468 442.6)"/>
 <ellipse cx="480.6" cy="455.4" rx="8.6" ry="3.5" transform="rotate(44 480.6 455.4)"/>
</g>
<path d="M486 460 C491 462.5 497 460 503.5 456.6 M490 462 C492 467 493 472 494 477" stroke="#5e524a" stroke-width="2.2" fill="none" stroke-linecap="round"/>
<!-- Neuron body -->
<path d="M344.4 346 L354.8 353.3 L364.2 351.25 L375.6 343 L376.7 332.5 L379.8 339.8 L384 344 L391.25 343 L397.5 336.7 L399.6 332.5 L401.7 336.7 L397.5 351.25 L403.75 368 L416.25 384.6 L426.7 398 L431.9 403.3 L428.75 405.4 L418.3 399.2 L397.5 390.8 L385 388.75 L376.7 391.9 L374.6 406.5 L370.4 392.9 L360 386.7 L352.7 382.5 L343.3 384.6 L352.7 376.25 L355.8 365.8 L354.8 357.5 Z" fill="#6e625a" stroke="#6e625a" stroke-width="1.5" stroke-linejoin="round"/>
<ellipse cx="387" cy="369" rx="9.5" ry="10.5" fill="#5c4132" filter="url(#b05)"/>

<!-- bolts -->
<g fill="#f4741a" stroke="#3a2010" stroke-width="1.2" stroke-linejoin="miter">
 <path d="M314.4 351.4 L325.4 340.5 L336.6 346.2 L334.2 348.6 L346.3 351.9 L343.8 354 L360.5 362.2 L338.2 361 L340.3 358.6 L326.4 356.4 L329 353.9 Z"/>
 <path d="M377.4 315.3 L392.9 310.2 L388.3 323.2 L392.3 323 L387.7 335.3 L391.6 335.1 L383.7 356.3 L381.9 338.6 L378.4 339 L380.3 328.2 L376.6 328.4 Z"/>
</g>
<!-- arrows -->
<g stroke="#383838" stroke-width="1.25" fill="none" stroke-linecap="butt" stroke-linejoin="miter">
 <path d="M468.1 232.3 V220 M465.1 224.6 L468.1 219.4 L471.1 224.6"/>
 <path d="M480.6 232.3 V220 M477.6 224.6 L480.6 219.4 L483.6 224.6"/>
 <path d="M421.3 250.8 V238.6 M418.3 243.2 L421.3 238 L424.3 243.2"/>
 <path d="M433.1 250.8 V238.6 M430.1 243.2 L433.1 238 L436.1 243.2"/>
</g>
</svg>

<!-- Text -->
<div class="t" style="left:78.3px;top:23px;font-size:17.86px;color:#10202a">Innate immune adaptor TRIF confers neuroprotection in ALS</div>
<div class="t" style="left:491px;top:102.4px;font-size:16.1px">Spinal cord</div>
<div class="t" style="left:71px;top:168.3px;font-size:16px">ALS mouse without</div>
<div class="t" style="left:89px;top:187px;font-size:16px">TRIF signaling</div>
<div class="t" style="left:314px;top:216px;font-size:16px">Abnormal astrocytes</div>
<div class="t" style="left:361px;top:235.2px;font-size:16px">Toxicity</div>
<div class="t" style="left:23.6px;top:267.8px;font-size:14.35px">Normal astrocyte</div>
<div class="t" style="left:145.8px;top:268.2px;font-size:14.12px">Abnormal astrocyte</div>
<div class="t" style="left:477px;top:365.5px;font-size:16px">Accelerating</div>
<div class="t" style="left:452px;top:383.5px;font-size:16px">Motor neuron death</div>
</body></html>
